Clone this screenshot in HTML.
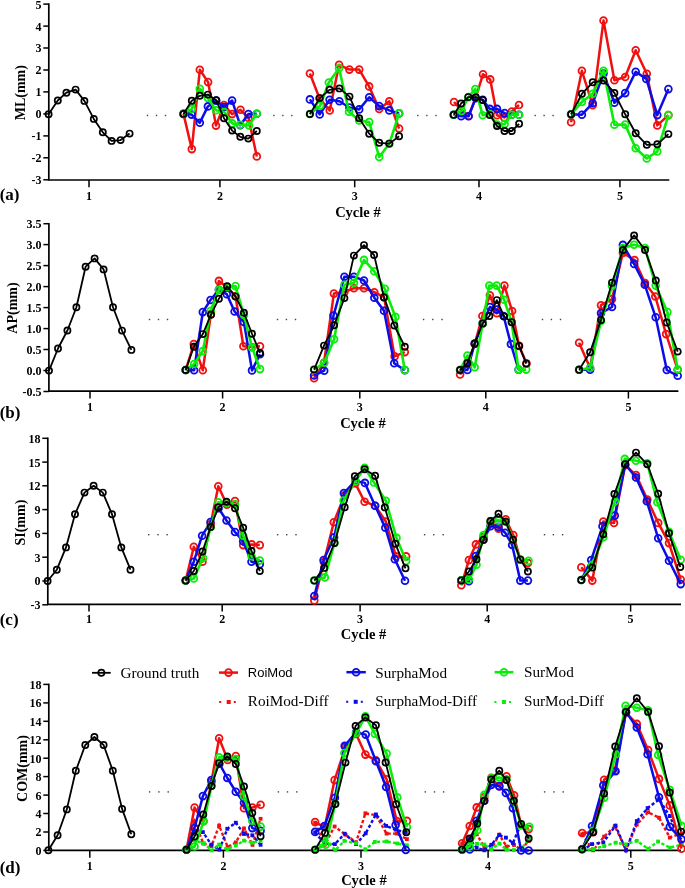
<!DOCTYPE html>
<html><head><meta charset="utf-8"><style>
html,body{margin:0;padding:0;background:#fff;width:685px;height:888px;overflow:hidden;}
svg{display:block;}
.tk{font-family:"Liberation Serif",serif;font-weight:bold;font-size:12px;}
.yl{font-family:"Liberation Serif",serif;font-weight:bold;font-size:14px;}
.xl{font-family:"Liberation Serif",serif;font-weight:bold;font-size:14.5px;}
.tag{font-family:"Liberation Serif",serif;font-weight:bold;font-size:17px;}
.lg{font-family:"Liberation Serif",serif;font-size:15.2px;}
.lgs{font-family:"Liberation Sans",sans-serif;font-size:13px;}
</style></head><body>
<svg width="685" height="888" viewBox="0 0 685 888">
<rect width="685" height="888" fill="#fff"/>
<line x1="48.8" y1="3.2999999999999945" x2="48.8" y2="180.0" stroke="#000" stroke-width="1.7"/>
<line x1="43.3" y1="4.1" x2="48.8" y2="4.1" stroke="#000" stroke-width="1.5"/>
<text x="41.5" y="8.5" class="tk" text-anchor="end">5</text>
<line x1="43.3" y1="26.1" x2="48.8" y2="26.1" stroke="#000" stroke-width="1.5"/>
<text x="41.5" y="30.5" class="tk" text-anchor="end">4</text>
<line x1="43.3" y1="48.0" x2="48.8" y2="48.0" stroke="#000" stroke-width="1.5"/>
<text x="41.5" y="52.4" class="tk" text-anchor="end">3</text>
<line x1="43.3" y1="70.0" x2="48.8" y2="70.0" stroke="#000" stroke-width="1.5"/>
<text x="41.5" y="74.4" class="tk" text-anchor="end">2</text>
<line x1="43.3" y1="91.9" x2="48.8" y2="91.9" stroke="#000" stroke-width="1.5"/>
<text x="41.5" y="96.3" class="tk" text-anchor="end">1</text>
<line x1="43.3" y1="113.9" x2="48.8" y2="113.9" stroke="#000" stroke-width="1.5"/>
<text x="41.5" y="118.3" class="tk" text-anchor="end">0</text>
<line x1="43.3" y1="135.9" x2="48.8" y2="135.9" stroke="#000" stroke-width="1.5"/>
<text x="41.5" y="140.3" class="tk" text-anchor="end">-1</text>
<line x1="43.3" y1="157.8" x2="48.8" y2="157.8" stroke="#000" stroke-width="1.5"/>
<text x="41.5" y="162.2" class="tk" text-anchor="end">-2</text>
<line x1="43.3" y1="179.8" x2="48.8" y2="179.8" stroke="#000" stroke-width="1.5"/>
<text x="41.5" y="184.2" class="tk" text-anchor="end">-3</text>
<text class="yl" transform="translate(24.5,92.7) rotate(-90)" text-anchor="middle">ML(mm)</text>
<line x1="47.9" y1="180.0" x2="669.3" y2="180.0" stroke="#000" stroke-width="1.7"/>
<line x1="89.0" y1="180.0" x2="89.0" y2="187.3" stroke="#000" stroke-width="1.5"/>
<text x="89.0" y="199.6" class="tk" text-anchor="middle">1</text>
<line x1="219.9" y1="180.0" x2="219.9" y2="187.3" stroke="#000" stroke-width="1.5"/>
<text x="219.9" y="199.6" class="tk" text-anchor="middle">2</text>
<line x1="354.7" y1="180.0" x2="354.7" y2="187.3" stroke="#000" stroke-width="1.5"/>
<text x="354.7" y="199.6" class="tk" text-anchor="middle">3</text>
<line x1="479.0" y1="180.0" x2="479.0" y2="187.3" stroke="#000" stroke-width="1.5"/>
<text x="479.0" y="199.6" class="tk" text-anchor="middle">4</text>
<line x1="619.9" y1="180.0" x2="619.9" y2="187.3" stroke="#000" stroke-width="1.5"/>
<text x="619.9" y="199.6" class="tk" text-anchor="middle">5</text>
<text x="357.9" y="216.5" class="xl" text-anchor="middle">Cycle #</text>
<text x="-0.3" y="200.3" class="tag">(a)</text>
<rect x="146.8" y="114.8" width="1.4" height="1.4" fill="#444"/>
<rect x="155.8" y="114.8" width="1.4" height="1.4" fill="#444"/>
<rect x="164.8" y="114.8" width="1.4" height="1.4" fill="#444"/>
<rect x="273.2" y="114.8" width="1.4" height="1.4" fill="#444"/>
<rect x="282.1" y="114.8" width="1.4" height="1.4" fill="#444"/>
<rect x="291.1" y="114.8" width="1.4" height="1.4" fill="#444"/>
<rect x="417.1" y="114.8" width="1.4" height="1.4" fill="#444"/>
<rect x="426.1" y="114.8" width="1.4" height="1.4" fill="#444"/>
<rect x="435.3" y="114.8" width="1.4" height="1.4" fill="#444"/>
<rect x="534.5" y="114.8" width="1.4" height="1.4" fill="#444"/>
<rect x="543.4" y="114.8" width="1.4" height="1.4" fill="#444"/>
<rect x="552.4" y="114.8" width="1.4" height="1.4" fill="#444"/>
<g fill="none" stroke="#f01010">
<polyline points="183.5,113.9 191.8,149.1 199.8,69.8 208.1,82.1 216.0,125.6 224.0,105.0 232.1,114.1 240.5,109.8 248.5,118.0 256.8,156.4" stroke-width="2.5" stroke-linejoin="round"/>
<polyline points="309.9,73.5 319.5,98.3 329.7,110.5 339.1,64.8 349.4,69.6 359.2,69.6 369.1,86.4 379.2,108.9 389.3,101.3 399.1,128.6" stroke-width="2.5" stroke-linejoin="round"/>
<polyline points="454.0,102.0 461.2,110.0 468.6,116.0 475.7,98.0 483.0,74.2 490.2,79.4 497.0,115.3 504.2,117.4 511.8,111.5 519.0,105.0" stroke-width="2.5" stroke-linejoin="round"/>
<polyline points="571.1,122.2 581.9,70.8 592.7,105.3 603.5,20.5 614.4,80.2 625.2,77.0 635.7,50.2 646.8,73.8 657.3,125.4 668.4,115.1" stroke-width="2.5" stroke-linejoin="round"/>
<circle cx="183.5" cy="113.9" r="3.4" stroke-width="1.8"/>
<circle cx="191.8" cy="149.1" r="3.4" stroke-width="1.8"/>
<circle cx="199.8" cy="69.8" r="3.4" stroke-width="1.8"/>
<circle cx="208.1" cy="82.1" r="3.4" stroke-width="1.8"/>
<circle cx="216.0" cy="125.6" r="3.4" stroke-width="1.8"/>
<circle cx="224.0" cy="105.0" r="3.4" stroke-width="1.8"/>
<circle cx="232.1" cy="114.1" r="3.4" stroke-width="1.8"/>
<circle cx="240.5" cy="109.8" r="3.4" stroke-width="1.8"/>
<circle cx="248.5" cy="118.0" r="3.4" stroke-width="1.8"/>
<circle cx="256.8" cy="156.4" r="3.4" stroke-width="1.8"/>
<circle cx="309.9" cy="73.5" r="3.4" stroke-width="1.8"/>
<circle cx="319.5" cy="98.3" r="3.4" stroke-width="1.8"/>
<circle cx="329.7" cy="110.5" r="3.4" stroke-width="1.8"/>
<circle cx="339.1" cy="64.8" r="3.4" stroke-width="1.8"/>
<circle cx="349.4" cy="69.6" r="3.4" stroke-width="1.8"/>
<circle cx="359.2" cy="69.6" r="3.4" stroke-width="1.8"/>
<circle cx="369.1" cy="86.4" r="3.4" stroke-width="1.8"/>
<circle cx="379.2" cy="108.9" r="3.4" stroke-width="1.8"/>
<circle cx="389.3" cy="101.3" r="3.4" stroke-width="1.8"/>
<circle cx="399.1" cy="128.6" r="3.4" stroke-width="1.8"/>
<circle cx="454.0" cy="102.0" r="3.4" stroke-width="1.8"/>
<circle cx="461.2" cy="110.0" r="3.4" stroke-width="1.8"/>
<circle cx="468.6" cy="116.0" r="3.4" stroke-width="1.8"/>
<circle cx="475.7" cy="98.0" r="3.4" stroke-width="1.8"/>
<circle cx="483.0" cy="74.2" r="3.4" stroke-width="1.8"/>
<circle cx="490.2" cy="79.4" r="3.4" stroke-width="1.8"/>
<circle cx="497.0" cy="115.3" r="3.4" stroke-width="1.8"/>
<circle cx="504.2" cy="117.4" r="3.4" stroke-width="1.8"/>
<circle cx="511.8" cy="111.5" r="3.4" stroke-width="1.8"/>
<circle cx="519.0" cy="105.0" r="3.4" stroke-width="1.8"/>
<circle cx="571.1" cy="122.2" r="3.4" stroke-width="1.8"/>
<circle cx="581.9" cy="70.8" r="3.4" stroke-width="1.8"/>
<circle cx="592.7" cy="105.3" r="3.4" stroke-width="1.8"/>
<circle cx="603.5" cy="20.5" r="3.4" stroke-width="1.8"/>
<circle cx="614.4" cy="80.2" r="3.4" stroke-width="1.8"/>
<circle cx="625.2" cy="77.0" r="3.4" stroke-width="1.8"/>
<circle cx="635.7" cy="50.2" r="3.4" stroke-width="1.8"/>
<circle cx="646.8" cy="73.8" r="3.4" stroke-width="1.8"/>
<circle cx="657.3" cy="125.4" r="3.4" stroke-width="1.8"/>
<circle cx="668.4" cy="115.1" r="3.4" stroke-width="1.8"/>
</g>
<g fill="none" stroke="#0c0ce6">
<polyline points="183.5,113.9 191.6,114.6 199.8,122.8 207.9,106.4 216.2,100.6 224.0,107.0 232.1,100.6 240.3,125.3 248.4,114.1 256.8,113.7" stroke-width="2.5" stroke-linejoin="round"/>
<polyline points="309.9,99.4 319.7,114.4 329.6,99.8 339.4,101.3 349.4,107.5 359.2,109.4 369.2,97.2 379.2,106.1 389.3,110.4 399.1,113.4" stroke-width="2.5" stroke-linejoin="round"/>
<polyline points="453.7,114.8 461.2,116.3 468.6,116.3 475.7,98.1 482.7,99.8 489.8,108.9 497.0,108.9 504.6,113.1 511.8,114.8 519.0,114.8" stroke-width="2.5" stroke-linejoin="round"/>
<polyline points="571.1,114.3 581.9,114.7 592.7,103.2 603.5,73.5 614.4,102.8 625.2,93.1 635.7,71.8 646.3,78.9 657.3,115.1 668.4,89.1" stroke-width="2.5" stroke-linejoin="round"/>
<circle cx="183.5" cy="113.9" r="3.4" stroke-width="1.8"/>
<circle cx="191.6" cy="114.6" r="3.4" stroke-width="1.8"/>
<circle cx="199.8" cy="122.8" r="3.4" stroke-width="1.8"/>
<circle cx="207.9" cy="106.4" r="3.4" stroke-width="1.8"/>
<circle cx="216.2" cy="100.6" r="3.4" stroke-width="1.8"/>
<circle cx="224.0" cy="107.0" r="3.4" stroke-width="1.8"/>
<circle cx="232.1" cy="100.6" r="3.4" stroke-width="1.8"/>
<circle cx="240.3" cy="125.3" r="3.4" stroke-width="1.8"/>
<circle cx="248.4" cy="114.1" r="3.4" stroke-width="1.8"/>
<circle cx="256.8" cy="113.7" r="3.4" stroke-width="1.8"/>
<circle cx="309.9" cy="99.4" r="3.4" stroke-width="1.8"/>
<circle cx="319.7" cy="114.4" r="3.4" stroke-width="1.8"/>
<circle cx="329.6" cy="99.8" r="3.4" stroke-width="1.8"/>
<circle cx="339.4" cy="101.3" r="3.4" stroke-width="1.8"/>
<circle cx="349.4" cy="107.5" r="3.4" stroke-width="1.8"/>
<circle cx="359.2" cy="109.4" r="3.4" stroke-width="1.8"/>
<circle cx="369.2" cy="97.2" r="3.4" stroke-width="1.8"/>
<circle cx="379.2" cy="106.1" r="3.4" stroke-width="1.8"/>
<circle cx="389.3" cy="110.4" r="3.4" stroke-width="1.8"/>
<circle cx="399.1" cy="113.4" r="3.4" stroke-width="1.8"/>
<circle cx="453.7" cy="114.8" r="3.4" stroke-width="1.8"/>
<circle cx="461.2" cy="116.3" r="3.4" stroke-width="1.8"/>
<circle cx="468.6" cy="116.3" r="3.4" stroke-width="1.8"/>
<circle cx="475.7" cy="98.1" r="3.4" stroke-width="1.8"/>
<circle cx="482.7" cy="99.8" r="3.4" stroke-width="1.8"/>
<circle cx="489.8" cy="108.9" r="3.4" stroke-width="1.8"/>
<circle cx="497.0" cy="108.9" r="3.4" stroke-width="1.8"/>
<circle cx="504.6" cy="113.1" r="3.4" stroke-width="1.8"/>
<circle cx="511.8" cy="114.8" r="3.4" stroke-width="1.8"/>
<circle cx="519.0" cy="114.8" r="3.4" stroke-width="1.8"/>
<circle cx="571.1" cy="114.3" r="3.4" stroke-width="1.8"/>
<circle cx="581.9" cy="114.7" r="3.4" stroke-width="1.8"/>
<circle cx="592.7" cy="103.2" r="3.4" stroke-width="1.8"/>
<circle cx="603.5" cy="73.5" r="3.4" stroke-width="1.8"/>
<circle cx="614.4" cy="102.8" r="3.4" stroke-width="1.8"/>
<circle cx="625.2" cy="93.1" r="3.4" stroke-width="1.8"/>
<circle cx="635.7" cy="71.8" r="3.4" stroke-width="1.8"/>
<circle cx="646.3" cy="78.9" r="3.4" stroke-width="1.8"/>
<circle cx="657.3" cy="115.1" r="3.4" stroke-width="1.8"/>
<circle cx="668.4" cy="89.1" r="3.4" stroke-width="1.8"/>
</g>
<g fill="none" stroke="#0aec0a">
<polyline points="183.5,113.9 191.8,109.0 199.8,88.8 207.9,98.0 216.0,110.3 224.2,112.0 232.3,123.4 240.3,124.7 249.0,125.5 256.8,113.7" stroke-width="2.6" stroke-linejoin="round"/>
<polyline points="309.9,114.0 320.1,105.8 328.8,82.5 339.0,68.2 349.0,111.8 359.1,120.5 369.2,122.1 379.2,157.0 389.3,143.8 399.1,113.4" stroke-width="2.6" stroke-linejoin="round"/>
<polyline points="453.7,114.8 461.5,110.9 468.3,97.1 475.3,89.0 482.7,115.2 489.8,114.0 497.0,124.5 504.6,124.1 511.8,114.8 519.0,114.8" stroke-width="2.6" stroke-linejoin="round"/>
<polyline points="571.1,114.3 581.9,101.9 592.7,93.8 603.5,70.8 614.4,124.7 625.2,124.6 635.7,148.2 646.8,158.5 657.3,151.4 668.4,115.1" stroke-width="2.6" stroke-linejoin="round"/>
<circle cx="183.5" cy="113.9" r="3.4" stroke-width="1.8"/>
<circle cx="191.8" cy="109.0" r="3.4" stroke-width="1.8"/>
<circle cx="199.8" cy="88.8" r="3.4" stroke-width="1.8"/>
<circle cx="207.9" cy="98.0" r="3.4" stroke-width="1.8"/>
<circle cx="216.0" cy="110.3" r="3.4" stroke-width="1.8"/>
<circle cx="224.2" cy="112.0" r="3.4" stroke-width="1.8"/>
<circle cx="232.3" cy="123.4" r="3.4" stroke-width="1.8"/>
<circle cx="240.3" cy="124.7" r="3.4" stroke-width="1.8"/>
<circle cx="249.0" cy="125.5" r="3.4" stroke-width="1.8"/>
<circle cx="256.8" cy="113.7" r="3.4" stroke-width="1.8"/>
<circle cx="309.9" cy="114.0" r="3.4" stroke-width="1.8"/>
<circle cx="320.1" cy="105.8" r="3.4" stroke-width="1.8"/>
<circle cx="328.8" cy="82.5" r="3.4" stroke-width="1.8"/>
<circle cx="339.0" cy="68.2" r="3.4" stroke-width="1.8"/>
<circle cx="349.0" cy="111.8" r="3.4" stroke-width="1.8"/>
<circle cx="359.1" cy="120.5" r="3.4" stroke-width="1.8"/>
<circle cx="369.2" cy="122.1" r="3.4" stroke-width="1.8"/>
<circle cx="379.2" cy="157.0" r="3.4" stroke-width="1.8"/>
<circle cx="389.3" cy="143.8" r="3.4" stroke-width="1.8"/>
<circle cx="399.1" cy="113.4" r="3.4" stroke-width="1.8"/>
<circle cx="453.7" cy="114.8" r="3.4" stroke-width="1.8"/>
<circle cx="461.5" cy="110.9" r="3.4" stroke-width="1.8"/>
<circle cx="468.3" cy="97.1" r="3.4" stroke-width="1.8"/>
<circle cx="475.3" cy="89.0" r="3.4" stroke-width="1.8"/>
<circle cx="482.7" cy="115.2" r="3.4" stroke-width="1.8"/>
<circle cx="489.8" cy="114.0" r="3.4" stroke-width="1.8"/>
<circle cx="497.0" cy="124.5" r="3.4" stroke-width="1.8"/>
<circle cx="504.6" cy="124.1" r="3.4" stroke-width="1.8"/>
<circle cx="511.8" cy="114.8" r="3.4" stroke-width="1.8"/>
<circle cx="519.0" cy="114.8" r="3.4" stroke-width="1.8"/>
<circle cx="571.1" cy="114.3" r="3.4" stroke-width="1.8"/>
<circle cx="581.9" cy="101.9" r="3.4" stroke-width="1.8"/>
<circle cx="592.7" cy="93.8" r="3.4" stroke-width="1.8"/>
<circle cx="603.5" cy="70.8" r="3.4" stroke-width="1.8"/>
<circle cx="614.4" cy="124.7" r="3.4" stroke-width="1.8"/>
<circle cx="625.2" cy="124.6" r="3.4" stroke-width="1.8"/>
<circle cx="635.7" cy="148.2" r="3.4" stroke-width="1.8"/>
<circle cx="646.8" cy="158.5" r="3.4" stroke-width="1.8"/>
<circle cx="657.3" cy="151.4" r="3.4" stroke-width="1.8"/>
<circle cx="668.4" cy="115.1" r="3.4" stroke-width="1.8"/>
</g>
<g fill="none" stroke="#000000">
<polyline points="48.6,114.2 57.8,100.5 66.4,92.7 75.6,89.6 84.4,100.9 93.8,118.9 102.8,132.3 111.6,140.9 120.6,140.1 129.6,133.6" stroke-width="1.8" stroke-linejoin="round"/>
<polyline points="183.5,113.9 191.8,100.8 199.8,95.8 207.9,94.6 216.2,100.3 224.0,118.2 232.1,130.6 240.3,136.8 248.3,138.6 256.8,131.0" stroke-width="1.8" stroke-linejoin="round"/>
<polyline points="309.9,114.0 319.7,98.1 329.6,89.8 339.4,88.4 349.5,96.6 359.2,118.3 369.2,133.7 379.2,142.8 389.3,143.6 399.1,136.2" stroke-width="1.8" stroke-linejoin="round"/>
<polyline points="453.7,114.8 461.1,103.5 468.3,97.1 475.7,97.2 482.7,100.0 489.8,115.1 497.0,126.0 504.5,131.0 511.8,131.0 519.1,123.8" stroke-width="1.8" stroke-linejoin="round"/>
<polyline points="571.1,114.3 581.9,93.8 592.7,82.3 603.5,80.5 614.4,92.9 625.2,114.3 635.7,133.3 646.8,144.8 657.3,144.3 668.4,134.1" stroke-width="1.8" stroke-linejoin="round"/>
<circle cx="48.6" cy="114.2" r="3.1" stroke-width="1.7"/>
<circle cx="57.8" cy="100.5" r="3.1" stroke-width="1.7"/>
<circle cx="66.4" cy="92.7" r="3.1" stroke-width="1.7"/>
<circle cx="75.6" cy="89.6" r="3.1" stroke-width="1.7"/>
<circle cx="84.4" cy="100.9" r="3.1" stroke-width="1.7"/>
<circle cx="93.8" cy="118.9" r="3.1" stroke-width="1.7"/>
<circle cx="102.8" cy="132.3" r="3.1" stroke-width="1.7"/>
<circle cx="111.6" cy="140.9" r="3.1" stroke-width="1.7"/>
<circle cx="120.6" cy="140.1" r="3.1" stroke-width="1.7"/>
<circle cx="129.6" cy="133.6" r="3.1" stroke-width="1.7"/>
<circle cx="183.5" cy="113.9" r="3.1" stroke-width="1.7"/>
<circle cx="191.8" cy="100.8" r="3.1" stroke-width="1.7"/>
<circle cx="199.8" cy="95.8" r="3.1" stroke-width="1.7"/>
<circle cx="207.9" cy="94.6" r="3.1" stroke-width="1.7"/>
<circle cx="216.2" cy="100.3" r="3.1" stroke-width="1.7"/>
<circle cx="224.0" cy="118.2" r="3.1" stroke-width="1.7"/>
<circle cx="232.1" cy="130.6" r="3.1" stroke-width="1.7"/>
<circle cx="240.3" cy="136.8" r="3.1" stroke-width="1.7"/>
<circle cx="248.3" cy="138.6" r="3.1" stroke-width="1.7"/>
<circle cx="256.8" cy="131.0" r="3.1" stroke-width="1.7"/>
<circle cx="309.9" cy="114.0" r="3.1" stroke-width="1.7"/>
<circle cx="319.7" cy="98.1" r="3.1" stroke-width="1.7"/>
<circle cx="329.6" cy="89.8" r="3.1" stroke-width="1.7"/>
<circle cx="339.4" cy="88.4" r="3.1" stroke-width="1.7"/>
<circle cx="349.5" cy="96.6" r="3.1" stroke-width="1.7"/>
<circle cx="359.2" cy="118.3" r="3.1" stroke-width="1.7"/>
<circle cx="369.2" cy="133.7" r="3.1" stroke-width="1.7"/>
<circle cx="379.2" cy="142.8" r="3.1" stroke-width="1.7"/>
<circle cx="389.3" cy="143.6" r="3.1" stroke-width="1.7"/>
<circle cx="399.1" cy="136.2" r="3.1" stroke-width="1.7"/>
<circle cx="453.7" cy="114.8" r="3.1" stroke-width="1.7"/>
<circle cx="461.1" cy="103.5" r="3.1" stroke-width="1.7"/>
<circle cx="468.3" cy="97.1" r="3.1" stroke-width="1.7"/>
<circle cx="475.7" cy="97.2" r="3.1" stroke-width="1.7"/>
<circle cx="482.7" cy="100.0" r="3.1" stroke-width="1.7"/>
<circle cx="489.8" cy="115.1" r="3.1" stroke-width="1.7"/>
<circle cx="497.0" cy="126.0" r="3.1" stroke-width="1.7"/>
<circle cx="504.5" cy="131.0" r="3.1" stroke-width="1.7"/>
<circle cx="511.8" cy="131.0" r="3.1" stroke-width="1.7"/>
<circle cx="519.1" cy="123.8" r="3.1" stroke-width="1.7"/>
<circle cx="571.1" cy="114.3" r="3.1" stroke-width="1.7"/>
<circle cx="581.9" cy="93.8" r="3.1" stroke-width="1.7"/>
<circle cx="592.7" cy="82.3" r="3.1" stroke-width="1.7"/>
<circle cx="603.5" cy="80.5" r="3.1" stroke-width="1.7"/>
<circle cx="614.4" cy="92.9" r="3.1" stroke-width="1.7"/>
<circle cx="625.2" cy="114.3" r="3.1" stroke-width="1.7"/>
<circle cx="635.7" cy="133.3" r="3.1" stroke-width="1.7"/>
<circle cx="646.8" cy="144.8" r="3.1" stroke-width="1.7"/>
<circle cx="657.3" cy="144.3" r="3.1" stroke-width="1.7"/>
<circle cx="668.4" cy="134.1" r="3.1" stroke-width="1.7"/>
</g>
<line x1="48.9" y1="222.87499999999997" x2="48.9" y2="391.2" stroke="#000" stroke-width="1.7"/>
<line x1="43.4" y1="223.7" x2="48.9" y2="223.7" stroke="#000" stroke-width="1.5"/>
<text x="41.6" y="228.1" class="tk" text-anchor="end">3.5</text>
<line x1="43.4" y1="244.6" x2="48.9" y2="244.6" stroke="#000" stroke-width="1.5"/>
<text x="41.6" y="249.0" class="tk" text-anchor="end">3.0</text>
<line x1="43.4" y1="265.6" x2="48.9" y2="265.6" stroke="#000" stroke-width="1.5"/>
<text x="41.6" y="270.0" class="tk" text-anchor="end">2.5</text>
<line x1="43.4" y1="286.6" x2="48.9" y2="286.6" stroke="#000" stroke-width="1.5"/>
<text x="41.6" y="291.0" class="tk" text-anchor="end">2.0</text>
<line x1="43.4" y1="307.6" x2="48.9" y2="307.6" stroke="#000" stroke-width="1.5"/>
<text x="41.6" y="312.0" class="tk" text-anchor="end">1.5</text>
<line x1="43.4" y1="328.6" x2="48.9" y2="328.6" stroke="#000" stroke-width="1.5"/>
<text x="41.6" y="333.0" class="tk" text-anchor="end">1.0</text>
<line x1="43.4" y1="349.5" x2="48.9" y2="349.5" stroke="#000" stroke-width="1.5"/>
<text x="41.6" y="353.9" class="tk" text-anchor="end">0.5</text>
<line x1="43.4" y1="370.5" x2="48.9" y2="370.5" stroke="#000" stroke-width="1.5"/>
<text x="41.6" y="374.9" class="tk" text-anchor="end">0.0</text>
<line x1="43.4" y1="391.5" x2="48.9" y2="391.5" stroke="#000" stroke-width="1.5"/>
<text x="41.6" y="395.9" class="tk" text-anchor="end">-0.5</text>
<text class="yl" transform="translate(16.9,308.0) rotate(-90)" text-anchor="middle">AP(mm)</text>
<line x1="48.0" y1="391.2" x2="678.4" y2="391.2" stroke="#000" stroke-width="1.7"/>
<line x1="90.0" y1="391.2" x2="90.0" y2="398.5" stroke="#000" stroke-width="1.5"/>
<text x="90.0" y="410.8" class="tk" text-anchor="middle">1</text>
<line x1="222.6" y1="391.2" x2="222.6" y2="398.5" stroke="#000" stroke-width="1.5"/>
<text x="222.6" y="410.8" class="tk" text-anchor="middle">2</text>
<line x1="359.8" y1="391.2" x2="359.8" y2="398.5" stroke="#000" stroke-width="1.5"/>
<text x="359.8" y="410.8" class="tk" text-anchor="middle">3</text>
<line x1="485.8" y1="391.2" x2="485.8" y2="398.5" stroke="#000" stroke-width="1.5"/>
<text x="485.8" y="410.8" class="tk" text-anchor="middle">4</text>
<line x1="628.4" y1="391.2" x2="628.4" y2="398.5" stroke="#000" stroke-width="1.5"/>
<text x="628.4" y="410.8" class="tk" text-anchor="middle">5</text>
<text x="362.9" y="428.4" class="xl" text-anchor="middle">Cycle #</text>
<text x="-0.3" y="417.5" class="tag">(b)</text>
<rect x="148.8" y="318.8" width="1.4" height="1.4" fill="#444"/>
<rect x="157.8" y="318.8" width="1.4" height="1.4" fill="#444"/>
<rect x="166.8" y="318.8" width="1.4" height="1.4" fill="#444"/>
<rect x="276.8" y="318.8" width="1.4" height="1.4" fill="#444"/>
<rect x="285.7" y="318.8" width="1.4" height="1.4" fill="#444"/>
<rect x="294.8" y="318.8" width="1.4" height="1.4" fill="#444"/>
<rect x="422.9" y="318.8" width="1.4" height="1.4" fill="#444"/>
<rect x="432.1" y="318.8" width="1.4" height="1.4" fill="#444"/>
<rect x="441.3" y="318.8" width="1.4" height="1.4" fill="#444"/>
<rect x="541.8" y="318.8" width="1.4" height="1.4" fill="#444"/>
<rect x="550.7" y="318.8" width="1.4" height="1.4" fill="#444"/>
<rect x="559.8" y="318.8" width="1.4" height="1.4" fill="#444"/>
<g fill="none" stroke="#f01010">
<polyline points="185.7,370.0 193.8,344.0 202.8,370.2 210.9,314.0 218.9,280.9 227.1,287.3 235.5,296.0 243.4,346.2 252.0,347.0 260.0,346.2" stroke-width="2.5" stroke-linejoin="round"/>
<polyline points="314.1,378.2 324.0,362.7 333.9,293.6 344.4,292.0 353.9,288.2 364.0,288.2 374.3,292.2 384.0,297.1 394.6,356.4 404.8,352.1" stroke-width="2.5" stroke-linejoin="round"/>
<polyline points="460.1,374.5 467.4,364.0 474.7,344.0 482.4,316.0 489.9,295.2 496.8,313.3 504.4,285.6 512.1,311.0 519.1,345.9 526.6,363.6" stroke-width="2.5" stroke-linejoin="round"/>
<polyline points="579.1,342.7 590.1,368.0 601.0,305.2 612.0,299.1 622.9,252.9 634.5,260.0 645.0,283.0 655.3,296.5 666.1,334.1 677.7,369.7" stroke-width="2.5" stroke-linejoin="round"/>
<circle cx="185.7" cy="370.0" r="3.4" stroke-width="1.8"/>
<circle cx="193.8" cy="344.0" r="3.4" stroke-width="1.8"/>
<circle cx="202.8" cy="370.2" r="3.4" stroke-width="1.8"/>
<circle cx="210.9" cy="314.0" r="3.4" stroke-width="1.8"/>
<circle cx="218.9" cy="280.9" r="3.4" stroke-width="1.8"/>
<circle cx="227.1" cy="287.3" r="3.4" stroke-width="1.8"/>
<circle cx="235.5" cy="296.0" r="3.4" stroke-width="1.8"/>
<circle cx="243.4" cy="346.2" r="3.4" stroke-width="1.8"/>
<circle cx="252.0" cy="347.0" r="3.4" stroke-width="1.8"/>
<circle cx="260.0" cy="346.2" r="3.4" stroke-width="1.8"/>
<circle cx="314.1" cy="378.2" r="3.4" stroke-width="1.8"/>
<circle cx="324.0" cy="362.7" r="3.4" stroke-width="1.8"/>
<circle cx="333.9" cy="293.6" r="3.4" stroke-width="1.8"/>
<circle cx="344.4" cy="292.0" r="3.4" stroke-width="1.8"/>
<circle cx="353.9" cy="288.2" r="3.4" stroke-width="1.8"/>
<circle cx="364.0" cy="288.2" r="3.4" stroke-width="1.8"/>
<circle cx="374.3" cy="292.2" r="3.4" stroke-width="1.8"/>
<circle cx="384.0" cy="297.1" r="3.4" stroke-width="1.8"/>
<circle cx="394.6" cy="356.4" r="3.4" stroke-width="1.8"/>
<circle cx="404.8" cy="352.1" r="3.4" stroke-width="1.8"/>
<circle cx="460.1" cy="374.5" r="3.4" stroke-width="1.8"/>
<circle cx="467.4" cy="364.0" r="3.4" stroke-width="1.8"/>
<circle cx="474.7" cy="344.0" r="3.4" stroke-width="1.8"/>
<circle cx="482.4" cy="316.0" r="3.4" stroke-width="1.8"/>
<circle cx="489.9" cy="295.2" r="3.4" stroke-width="1.8"/>
<circle cx="496.8" cy="313.3" r="3.4" stroke-width="1.8"/>
<circle cx="504.4" cy="285.6" r="3.4" stroke-width="1.8"/>
<circle cx="512.1" cy="311.0" r="3.4" stroke-width="1.8"/>
<circle cx="519.1" cy="345.9" r="3.4" stroke-width="1.8"/>
<circle cx="526.6" cy="363.6" r="3.4" stroke-width="1.8"/>
<circle cx="579.1" cy="342.7" r="3.4" stroke-width="1.8"/>
<circle cx="590.1" cy="368.0" r="3.4" stroke-width="1.8"/>
<circle cx="601.0" cy="305.2" r="3.4" stroke-width="1.8"/>
<circle cx="612.0" cy="299.1" r="3.4" stroke-width="1.8"/>
<circle cx="622.9" cy="252.9" r="3.4" stroke-width="1.8"/>
<circle cx="634.5" cy="260.0" r="3.4" stroke-width="1.8"/>
<circle cx="645.0" cy="283.0" r="3.4" stroke-width="1.8"/>
<circle cx="655.3" cy="296.5" r="3.4" stroke-width="1.8"/>
<circle cx="666.1" cy="334.1" r="3.4" stroke-width="1.8"/>
<circle cx="677.7" cy="369.7" r="3.4" stroke-width="1.8"/>
</g>
<g fill="none" stroke="#0c0ce6">
<polyline points="185.7,370.0 194.1,370.2 202.8,312.1 210.5,300.0 218.9,289.8 226.8,294.2 234.6,311.5 243.9,322.0 252.0,370.4 260.0,354.3" stroke-width="2.5" stroke-linejoin="round"/>
<polyline points="314.1,375.5 324.2,370.7 333.5,315.6 344.4,276.7 353.9,276.7 364.0,280.5 374.3,297.7 384.0,310.8 394.2,363.2 404.8,370.1" stroke-width="2.5" stroke-linejoin="round"/>
<polyline points="460.1,370.0 467.4,370.0 474.7,343.5 482.7,323.4 489.9,307.0 496.8,309.6 503.6,316.0 510.9,344.1 518.6,369.6" stroke-width="2.5" stroke-linejoin="round"/>
<polyline points="579.1,369.8 590.1,369.8 601.0,313.1 612.0,307.0 622.9,244.9 634.1,263.9 644.8,284.8 655.7,317.3 666.8,370.0 677.7,375.8" stroke-width="2.5" stroke-linejoin="round"/>
<circle cx="185.7" cy="370.0" r="3.4" stroke-width="1.8"/>
<circle cx="194.1" cy="370.2" r="3.4" stroke-width="1.8"/>
<circle cx="202.8" cy="312.1" r="3.4" stroke-width="1.8"/>
<circle cx="210.5" cy="300.0" r="3.4" stroke-width="1.8"/>
<circle cx="218.9" cy="289.8" r="3.4" stroke-width="1.8"/>
<circle cx="226.8" cy="294.2" r="3.4" stroke-width="1.8"/>
<circle cx="234.6" cy="311.5" r="3.4" stroke-width="1.8"/>
<circle cx="243.9" cy="322.0" r="3.4" stroke-width="1.8"/>
<circle cx="252.0" cy="370.4" r="3.4" stroke-width="1.8"/>
<circle cx="260.0" cy="354.3" r="3.4" stroke-width="1.8"/>
<circle cx="314.1" cy="375.5" r="3.4" stroke-width="1.8"/>
<circle cx="324.2" cy="370.7" r="3.4" stroke-width="1.8"/>
<circle cx="333.5" cy="315.6" r="3.4" stroke-width="1.8"/>
<circle cx="344.4" cy="276.7" r="3.4" stroke-width="1.8"/>
<circle cx="353.9" cy="276.7" r="3.4" stroke-width="1.8"/>
<circle cx="364.0" cy="280.5" r="3.4" stroke-width="1.8"/>
<circle cx="374.3" cy="297.7" r="3.4" stroke-width="1.8"/>
<circle cx="384.0" cy="310.8" r="3.4" stroke-width="1.8"/>
<circle cx="394.2" cy="363.2" r="3.4" stroke-width="1.8"/>
<circle cx="404.8" cy="370.1" r="3.4" stroke-width="1.8"/>
<circle cx="460.1" cy="370.0" r="3.4" stroke-width="1.8"/>
<circle cx="467.4" cy="370.0" r="3.4" stroke-width="1.8"/>
<circle cx="474.7" cy="343.5" r="3.4" stroke-width="1.8"/>
<circle cx="482.7" cy="323.4" r="3.4" stroke-width="1.8"/>
<circle cx="489.9" cy="307.0" r="3.4" stroke-width="1.8"/>
<circle cx="496.8" cy="309.6" r="3.4" stroke-width="1.8"/>
<circle cx="503.6" cy="316.0" r="3.4" stroke-width="1.8"/>
<circle cx="510.9" cy="344.1" r="3.4" stroke-width="1.8"/>
<circle cx="518.6" cy="369.6" r="3.4" stroke-width="1.8"/>
<circle cx="579.1" cy="369.8" r="3.4" stroke-width="1.8"/>
<circle cx="590.1" cy="369.8" r="3.4" stroke-width="1.8"/>
<circle cx="601.0" cy="313.1" r="3.4" stroke-width="1.8"/>
<circle cx="612.0" cy="307.0" r="3.4" stroke-width="1.8"/>
<circle cx="622.9" cy="244.9" r="3.4" stroke-width="1.8"/>
<circle cx="634.1" cy="263.9" r="3.4" stroke-width="1.8"/>
<circle cx="644.8" cy="284.8" r="3.4" stroke-width="1.8"/>
<circle cx="655.7" cy="317.3" r="3.4" stroke-width="1.8"/>
<circle cx="666.8" cy="370.0" r="3.4" stroke-width="1.8"/>
<circle cx="677.7" cy="375.8" r="3.4" stroke-width="1.8"/>
</g>
<g fill="none" stroke="#0aec0a">
<polyline points="185.7,370.0 194.1,364.0 202.8,351.1 210.8,310.8 218.9,289.8 227.1,287.0 235.5,286.1 243.9,315.0 252.0,347.4 260.0,369.1" stroke-width="2.6" stroke-linejoin="round"/>
<polyline points="314.1,369.6 324.2,362.7 334.1,339.2 344.4,284.8 353.9,282.9 364.0,259.9 374.3,271.3 384.8,288.8 395.4,316.9 404.8,370.1" stroke-width="2.6" stroke-linejoin="round"/>
<polyline points="460.1,370.0 467.4,355.5 474.7,367.3 482.7,323.4 489.3,285.6 496.7,285.6 504.1,299.8 511.5,321.7 518.6,369.6 526.2,369.6" stroke-width="2.6" stroke-linejoin="round"/>
<polyline points="579.1,369.8 590.1,368.0 601.0,321.0 612.0,286.0 622.9,248.0 634.1,244.7 645.0,248.0 655.7,285.6 667.4,312.1 677.7,369.5" stroke-width="2.6" stroke-linejoin="round"/>
<circle cx="185.7" cy="370.0" r="3.4" stroke-width="1.8"/>
<circle cx="194.1" cy="364.0" r="3.4" stroke-width="1.8"/>
<circle cx="202.8" cy="351.1" r="3.4" stroke-width="1.8"/>
<circle cx="210.8" cy="310.8" r="3.4" stroke-width="1.8"/>
<circle cx="218.9" cy="289.8" r="3.4" stroke-width="1.8"/>
<circle cx="227.1" cy="287.0" r="3.4" stroke-width="1.8"/>
<circle cx="235.5" cy="286.1" r="3.4" stroke-width="1.8"/>
<circle cx="243.9" cy="315.0" r="3.4" stroke-width="1.8"/>
<circle cx="252.0" cy="347.4" r="3.4" stroke-width="1.8"/>
<circle cx="260.0" cy="369.1" r="3.4" stroke-width="1.8"/>
<circle cx="314.1" cy="369.6" r="3.4" stroke-width="1.8"/>
<circle cx="324.2" cy="362.7" r="3.4" stroke-width="1.8"/>
<circle cx="334.1" cy="339.2" r="3.4" stroke-width="1.8"/>
<circle cx="344.4" cy="284.8" r="3.4" stroke-width="1.8"/>
<circle cx="353.9" cy="282.9" r="3.4" stroke-width="1.8"/>
<circle cx="364.0" cy="259.9" r="3.4" stroke-width="1.8"/>
<circle cx="374.3" cy="271.3" r="3.4" stroke-width="1.8"/>
<circle cx="384.8" cy="288.8" r="3.4" stroke-width="1.8"/>
<circle cx="395.4" cy="316.9" r="3.4" stroke-width="1.8"/>
<circle cx="404.8" cy="370.1" r="3.4" stroke-width="1.8"/>
<circle cx="460.1" cy="370.0" r="3.4" stroke-width="1.8"/>
<circle cx="467.4" cy="355.5" r="3.4" stroke-width="1.8"/>
<circle cx="474.7" cy="367.3" r="3.4" stroke-width="1.8"/>
<circle cx="482.7" cy="323.4" r="3.4" stroke-width="1.8"/>
<circle cx="489.3" cy="285.6" r="3.4" stroke-width="1.8"/>
<circle cx="496.7" cy="285.6" r="3.4" stroke-width="1.8"/>
<circle cx="504.1" cy="299.8" r="3.4" stroke-width="1.8"/>
<circle cx="511.5" cy="321.7" r="3.4" stroke-width="1.8"/>
<circle cx="518.6" cy="369.6" r="3.4" stroke-width="1.8"/>
<circle cx="526.2" cy="369.6" r="3.4" stroke-width="1.8"/>
<circle cx="579.1" cy="369.8" r="3.4" stroke-width="1.8"/>
<circle cx="590.1" cy="368.0" r="3.4" stroke-width="1.8"/>
<circle cx="601.0" cy="321.0" r="3.4" stroke-width="1.8"/>
<circle cx="612.0" cy="286.0" r="3.4" stroke-width="1.8"/>
<circle cx="622.9" cy="248.0" r="3.4" stroke-width="1.8"/>
<circle cx="634.1" cy="244.7" r="3.4" stroke-width="1.8"/>
<circle cx="645.0" cy="248.0" r="3.4" stroke-width="1.8"/>
<circle cx="655.7" cy="285.6" r="3.4" stroke-width="1.8"/>
<circle cx="667.4" cy="312.1" r="3.4" stroke-width="1.8"/>
<circle cx="677.7" cy="369.5" r="3.4" stroke-width="1.8"/>
</g>
<g fill="none" stroke="#000000">
<polyline points="49.0,370.6 58.0,348.5 67.4,330.5 76.4,307.2 85.6,266.7 94.6,258.4 103.6,269.4 113.0,307.2 122.0,330.6 131.4,349.9" stroke-width="1.8" stroke-linejoin="round"/>
<polyline points="185.7,370.0 193.8,346.7 202.8,334.1 211.0,314.7 218.9,298.7 227.1,286.3 235.5,296.6 243.9,312.8 252.0,333.8 260.0,353.0" stroke-width="1.8" stroke-linejoin="round"/>
<polyline points="314.1,369.6 324.0,345.6 334.1,325.3 344.4,298.1 353.9,255.6 364.0,245.1 374.1,255.0 384.0,297.4 394.3,325.5 404.8,346.7" stroke-width="1.8" stroke-linejoin="round"/>
<polyline points="460.1,370.0 467.4,363.0 474.7,343.5 482.7,323.4 489.4,316.0 496.8,300.1 504.1,316.4 511.7,322.3 519.1,345.9 526.2,363.4" stroke-width="1.8" stroke-linejoin="round"/>
<polyline points="579.1,369.8 590.1,352.3 601.0,320.1 612.0,282.8 622.9,250.1 634.1,235.4 645.0,250.0 655.8,280.4 666.7,322.5 677.7,351.6" stroke-width="1.8" stroke-linejoin="round"/>
<circle cx="49.0" cy="370.6" r="3.1" stroke-width="1.7"/>
<circle cx="58.0" cy="348.5" r="3.1" stroke-width="1.7"/>
<circle cx="67.4" cy="330.5" r="3.1" stroke-width="1.7"/>
<circle cx="76.4" cy="307.2" r="3.1" stroke-width="1.7"/>
<circle cx="85.6" cy="266.7" r="3.1" stroke-width="1.7"/>
<circle cx="94.6" cy="258.4" r="3.1" stroke-width="1.7"/>
<circle cx="103.6" cy="269.4" r="3.1" stroke-width="1.7"/>
<circle cx="113.0" cy="307.2" r="3.1" stroke-width="1.7"/>
<circle cx="122.0" cy="330.6" r="3.1" stroke-width="1.7"/>
<circle cx="131.4" cy="349.9" r="3.1" stroke-width="1.7"/>
<circle cx="185.7" cy="370.0" r="3.1" stroke-width="1.7"/>
<circle cx="193.8" cy="346.7" r="3.1" stroke-width="1.7"/>
<circle cx="202.8" cy="334.1" r="3.1" stroke-width="1.7"/>
<circle cx="211.0" cy="314.7" r="3.1" stroke-width="1.7"/>
<circle cx="218.9" cy="298.7" r="3.1" stroke-width="1.7"/>
<circle cx="227.1" cy="286.3" r="3.1" stroke-width="1.7"/>
<circle cx="235.5" cy="296.6" r="3.1" stroke-width="1.7"/>
<circle cx="243.9" cy="312.8" r="3.1" stroke-width="1.7"/>
<circle cx="252.0" cy="333.8" r="3.1" stroke-width="1.7"/>
<circle cx="260.0" cy="353.0" r="3.1" stroke-width="1.7"/>
<circle cx="314.1" cy="369.6" r="3.1" stroke-width="1.7"/>
<circle cx="324.0" cy="345.6" r="3.1" stroke-width="1.7"/>
<circle cx="334.1" cy="325.3" r="3.1" stroke-width="1.7"/>
<circle cx="344.4" cy="298.1" r="3.1" stroke-width="1.7"/>
<circle cx="353.9" cy="255.6" r="3.1" stroke-width="1.7"/>
<circle cx="364.0" cy="245.1" r="3.1" stroke-width="1.7"/>
<circle cx="374.1" cy="255.0" r="3.1" stroke-width="1.7"/>
<circle cx="384.0" cy="297.4" r="3.1" stroke-width="1.7"/>
<circle cx="394.3" cy="325.5" r="3.1" stroke-width="1.7"/>
<circle cx="404.8" cy="346.7" r="3.1" stroke-width="1.7"/>
<circle cx="460.1" cy="370.0" r="3.1" stroke-width="1.7"/>
<circle cx="467.4" cy="363.0" r="3.1" stroke-width="1.7"/>
<circle cx="474.7" cy="343.5" r="3.1" stroke-width="1.7"/>
<circle cx="482.7" cy="323.4" r="3.1" stroke-width="1.7"/>
<circle cx="489.4" cy="316.0" r="3.1" stroke-width="1.7"/>
<circle cx="496.8" cy="300.1" r="3.1" stroke-width="1.7"/>
<circle cx="504.1" cy="316.4" r="3.1" stroke-width="1.7"/>
<circle cx="511.7" cy="322.3" r="3.1" stroke-width="1.7"/>
<circle cx="519.1" cy="345.9" r="3.1" stroke-width="1.7"/>
<circle cx="526.2" cy="363.4" r="3.1" stroke-width="1.7"/>
<circle cx="579.1" cy="369.8" r="3.1" stroke-width="1.7"/>
<circle cx="590.1" cy="352.3" r="3.1" stroke-width="1.7"/>
<circle cx="601.0" cy="320.1" r="3.1" stroke-width="1.7"/>
<circle cx="612.0" cy="282.8" r="3.1" stroke-width="1.7"/>
<circle cx="622.9" cy="250.1" r="3.1" stroke-width="1.7"/>
<circle cx="634.1" cy="235.4" r="3.1" stroke-width="1.7"/>
<circle cx="645.0" cy="250.0" r="3.1" stroke-width="1.7"/>
<circle cx="655.8" cy="280.4" r="3.1" stroke-width="1.7"/>
<circle cx="666.7" cy="322.5" r="3.1" stroke-width="1.7"/>
<circle cx="677.7" cy="351.6" r="3.1" stroke-width="1.7"/>
</g>
<line x1="47.8" y1="437.46" x2="47.8" y2="604.3" stroke="#000" stroke-width="1.7"/>
<line x1="42.3" y1="438.3" x2="47.8" y2="438.3" stroke="#000" stroke-width="1.5"/>
<text x="40.5" y="442.7" class="tk" text-anchor="end">18</text>
<line x1="42.3" y1="462.1" x2="47.8" y2="462.1" stroke="#000" stroke-width="1.5"/>
<text x="40.5" y="466.5" class="tk" text-anchor="end">15</text>
<line x1="42.3" y1="485.8" x2="47.8" y2="485.8" stroke="#000" stroke-width="1.5"/>
<text x="40.5" y="490.2" class="tk" text-anchor="end">12</text>
<line x1="42.3" y1="509.6" x2="47.8" y2="509.6" stroke="#000" stroke-width="1.5"/>
<text x="40.5" y="514.0" class="tk" text-anchor="end">9</text>
<line x1="42.3" y1="533.4" x2="47.8" y2="533.4" stroke="#000" stroke-width="1.5"/>
<text x="40.5" y="537.8" class="tk" text-anchor="end">6</text>
<line x1="42.3" y1="557.2" x2="47.8" y2="557.2" stroke="#000" stroke-width="1.5"/>
<text x="40.5" y="561.6" class="tk" text-anchor="end">3</text>
<line x1="42.3" y1="581.0" x2="47.8" y2="581.0" stroke="#000" stroke-width="1.5"/>
<text x="40.5" y="585.4" class="tk" text-anchor="end">0</text>
<line x1="42.3" y1="604.8" x2="47.8" y2="604.8" stroke="#000" stroke-width="1.5"/>
<text x="40.5" y="609.2" class="tk" text-anchor="end">-3</text>
<text class="yl" transform="translate(24.8,522.6) rotate(-90)" text-anchor="middle">SI(mm)</text>
<line x1="47.0" y1="604.3" x2="681.0" y2="604.3" stroke="#000" stroke-width="1.7"/>
<line x1="89.0" y1="604.3" x2="89.0" y2="611.5999999999999" stroke="#000" stroke-width="1.5"/>
<text x="89.0" y="623.2" class="tk" text-anchor="middle">1</text>
<line x1="222.2" y1="604.3" x2="222.2" y2="611.5999999999999" stroke="#000" stroke-width="1.5"/>
<text x="222.2" y="623.2" class="tk" text-anchor="middle">2</text>
<line x1="360.1" y1="604.3" x2="360.1" y2="611.5999999999999" stroke="#000" stroke-width="1.5"/>
<text x="360.1" y="623.2" class="tk" text-anchor="middle">3</text>
<line x1="487.2" y1="604.3" x2="487.2" y2="611.5999999999999" stroke="#000" stroke-width="1.5"/>
<text x="487.2" y="623.2" class="tk" text-anchor="middle">4</text>
<line x1="630.6" y1="604.3" x2="630.6" y2="611.5999999999999" stroke="#000" stroke-width="1.5"/>
<text x="630.6" y="623.2" class="tk" text-anchor="middle">5</text>
<text x="363.5" y="639.3" class="xl" text-anchor="middle">Cycle #</text>
<text x="-0.3" y="624.6" class="tag">(c)</text>
<rect x="148.0" y="534.0" width="1.4" height="1.4" fill="#444"/>
<rect x="157.3" y="534.0" width="1.4" height="1.4" fill="#444"/>
<rect x="166.4" y="534.0" width="1.4" height="1.4" fill="#444"/>
<rect x="276.9" y="534.0" width="1.4" height="1.4" fill="#444"/>
<rect x="286.0" y="534.0" width="1.4" height="1.4" fill="#444"/>
<rect x="295.3" y="534.0" width="1.4" height="1.4" fill="#444"/>
<rect x="423.9" y="534.0" width="1.4" height="1.4" fill="#444"/>
<rect x="433.0" y="534.0" width="1.4" height="1.4" fill="#444"/>
<rect x="442.5" y="534.0" width="1.4" height="1.4" fill="#444"/>
<rect x="543.8" y="534.0" width="1.4" height="1.4" fill="#444"/>
<rect x="552.7" y="534.0" width="1.4" height="1.4" fill="#444"/>
<rect x="561.9" y="534.0" width="1.4" height="1.4" fill="#444"/>
<g fill="none" stroke="#f01010">
<polyline points="185.7,580.5 193.8,546.8 202.5,561.7 210.7,524.0 218.3,486.2 226.9,504.8 235.0,501.1 243.2,545.1 251.7,544.4 259.8,545.1" stroke-width="2.5" stroke-linejoin="round"/>
<polyline points="314.3,600.4 323.9,562.0 333.8,522.3 344.7,495.0 355.3,483.4 364.6,501.7 375.1,505.7 385.8,521.5 396.0,556.4 406.1,556.4" stroke-width="2.5" stroke-linejoin="round"/>
<polyline points="461.3,585.3 468.9,560.1 475.9,544.4 483.5,537.0 490.5,522.0 498.5,528.6 505.7,519.3 513.3,535.0 520.3,559.6 527.9,563.0" stroke-width="2.5" stroke-linejoin="round"/>
<polyline points="581.3,567.3 592.3,580.6 603.3,521.5 614.0,522.9 625.2,465.2 636.0,475.1 647.3,499.5 658.2,522.9 669.0,543.1 680.7,579.6" stroke-width="2.5" stroke-linejoin="round"/>
<circle cx="185.7" cy="580.5" r="3.4" stroke-width="1.8"/>
<circle cx="193.8" cy="546.8" r="3.4" stroke-width="1.8"/>
<circle cx="202.5" cy="561.7" r="3.4" stroke-width="1.8"/>
<circle cx="210.7" cy="524.0" r="3.4" stroke-width="1.8"/>
<circle cx="218.3" cy="486.2" r="3.4" stroke-width="1.8"/>
<circle cx="226.9" cy="504.8" r="3.4" stroke-width="1.8"/>
<circle cx="235.0" cy="501.1" r="3.4" stroke-width="1.8"/>
<circle cx="243.2" cy="545.1" r="3.4" stroke-width="1.8"/>
<circle cx="251.7" cy="544.4" r="3.4" stroke-width="1.8"/>
<circle cx="259.8" cy="545.1" r="3.4" stroke-width="1.8"/>
<circle cx="314.3" cy="600.4" r="3.4" stroke-width="1.8"/>
<circle cx="323.9" cy="562.0" r="3.4" stroke-width="1.8"/>
<circle cx="333.8" cy="522.3" r="3.4" stroke-width="1.8"/>
<circle cx="344.7" cy="495.0" r="3.4" stroke-width="1.8"/>
<circle cx="355.3" cy="483.4" r="3.4" stroke-width="1.8"/>
<circle cx="364.6" cy="501.7" r="3.4" stroke-width="1.8"/>
<circle cx="375.1" cy="505.7" r="3.4" stroke-width="1.8"/>
<circle cx="385.8" cy="521.5" r="3.4" stroke-width="1.8"/>
<circle cx="396.0" cy="556.4" r="3.4" stroke-width="1.8"/>
<circle cx="406.1" cy="556.4" r="3.4" stroke-width="1.8"/>
<circle cx="461.3" cy="585.3" r="3.4" stroke-width="1.8"/>
<circle cx="468.9" cy="560.1" r="3.4" stroke-width="1.8"/>
<circle cx="475.9" cy="544.4" r="3.4" stroke-width="1.8"/>
<circle cx="483.5" cy="537.0" r="3.4" stroke-width="1.8"/>
<circle cx="490.5" cy="522.0" r="3.4" stroke-width="1.8"/>
<circle cx="498.5" cy="528.6" r="3.4" stroke-width="1.8"/>
<circle cx="505.7" cy="519.3" r="3.4" stroke-width="1.8"/>
<circle cx="513.3" cy="535.0" r="3.4" stroke-width="1.8"/>
<circle cx="520.3" cy="559.6" r="3.4" stroke-width="1.8"/>
<circle cx="527.9" cy="563.0" r="3.4" stroke-width="1.8"/>
<circle cx="581.3" cy="567.3" r="3.4" stroke-width="1.8"/>
<circle cx="592.3" cy="580.6" r="3.4" stroke-width="1.8"/>
<circle cx="603.3" cy="521.5" r="3.4" stroke-width="1.8"/>
<circle cx="614.0" cy="522.9" r="3.4" stroke-width="1.8"/>
<circle cx="625.2" cy="465.2" r="3.4" stroke-width="1.8"/>
<circle cx="636.0" cy="475.1" r="3.4" stroke-width="1.8"/>
<circle cx="647.3" cy="499.5" r="3.4" stroke-width="1.8"/>
<circle cx="658.2" cy="522.9" r="3.4" stroke-width="1.8"/>
<circle cx="669.0" cy="543.1" r="3.4" stroke-width="1.8"/>
<circle cx="680.7" cy="579.6" r="3.4" stroke-width="1.8"/>
</g>
<g fill="none" stroke="#0c0ce6">
<polyline points="185.7,580.5 193.8,561.7 202.1,535.7 210.5,522.1 218.6,508.2 226.5,520.5 235.0,532.0 243.2,541.3 251.5,561.8 259.8,564.3" stroke-width="2.5" stroke-linejoin="round"/>
<polyline points="314.3,596.0 323.6,560.1 334.1,537.2 343.9,493.0 355.3,480.9 364.9,482.9 375.1,505.8 385.3,527.7 394.8,559.3 405.0,580.7" stroke-width="2.5" stroke-linejoin="round"/>
<polyline points="461.3,580.4 468.9,581.2 475.9,556.1 483.5,539.7 490.5,526.3 498.5,526.9 505.1,532.7 512.1,545.0 520.3,580.6 527.9,580.6" stroke-width="2.5" stroke-linejoin="round"/>
<polyline points="581.3,580.0 591.2,560.0 602.5,526.3 614.8,515.6 625.2,464.3 636.0,477.5 646.8,501.3 658.2,538.2 669.0,560.7 680.7,584.1" stroke-width="2.5" stroke-linejoin="round"/>
<circle cx="185.7" cy="580.5" r="3.4" stroke-width="1.8"/>
<circle cx="193.8" cy="561.7" r="3.4" stroke-width="1.8"/>
<circle cx="202.1" cy="535.7" r="3.4" stroke-width="1.8"/>
<circle cx="210.5" cy="522.1" r="3.4" stroke-width="1.8"/>
<circle cx="218.6" cy="508.2" r="3.4" stroke-width="1.8"/>
<circle cx="226.5" cy="520.5" r="3.4" stroke-width="1.8"/>
<circle cx="235.0" cy="532.0" r="3.4" stroke-width="1.8"/>
<circle cx="243.2" cy="541.3" r="3.4" stroke-width="1.8"/>
<circle cx="251.5" cy="561.8" r="3.4" stroke-width="1.8"/>
<circle cx="259.8" cy="564.3" r="3.4" stroke-width="1.8"/>
<circle cx="314.3" cy="596.0" r="3.4" stroke-width="1.8"/>
<circle cx="323.6" cy="560.1" r="3.4" stroke-width="1.8"/>
<circle cx="334.1" cy="537.2" r="3.4" stroke-width="1.8"/>
<circle cx="343.9" cy="493.0" r="3.4" stroke-width="1.8"/>
<circle cx="355.3" cy="480.9" r="3.4" stroke-width="1.8"/>
<circle cx="364.9" cy="482.9" r="3.4" stroke-width="1.8"/>
<circle cx="375.1" cy="505.8" r="3.4" stroke-width="1.8"/>
<circle cx="385.3" cy="527.7" r="3.4" stroke-width="1.8"/>
<circle cx="394.8" cy="559.3" r="3.4" stroke-width="1.8"/>
<circle cx="405.0" cy="580.7" r="3.4" stroke-width="1.8"/>
<circle cx="461.3" cy="580.4" r="3.4" stroke-width="1.8"/>
<circle cx="468.9" cy="581.2" r="3.4" stroke-width="1.8"/>
<circle cx="475.9" cy="556.1" r="3.4" stroke-width="1.8"/>
<circle cx="483.5" cy="539.7" r="3.4" stroke-width="1.8"/>
<circle cx="490.5" cy="526.3" r="3.4" stroke-width="1.8"/>
<circle cx="498.5" cy="526.9" r="3.4" stroke-width="1.8"/>
<circle cx="505.1" cy="532.7" r="3.4" stroke-width="1.8"/>
<circle cx="512.1" cy="545.0" r="3.4" stroke-width="1.8"/>
<circle cx="520.3" cy="580.6" r="3.4" stroke-width="1.8"/>
<circle cx="527.9" cy="580.6" r="3.4" stroke-width="1.8"/>
<circle cx="581.3" cy="580.0" r="3.4" stroke-width="1.8"/>
<circle cx="591.2" cy="560.0" r="3.4" stroke-width="1.8"/>
<circle cx="602.5" cy="526.3" r="3.4" stroke-width="1.8"/>
<circle cx="614.8" cy="515.6" r="3.4" stroke-width="1.8"/>
<circle cx="625.2" cy="464.3" r="3.4" stroke-width="1.8"/>
<circle cx="636.0" cy="477.5" r="3.4" stroke-width="1.8"/>
<circle cx="646.8" cy="501.3" r="3.4" stroke-width="1.8"/>
<circle cx="658.2" cy="538.2" r="3.4" stroke-width="1.8"/>
<circle cx="669.0" cy="560.7" r="3.4" stroke-width="1.8"/>
<circle cx="680.7" cy="584.1" r="3.4" stroke-width="1.8"/>
</g>
<g fill="none" stroke="#0aec0a">
<polyline points="185.7,580.5 193.8,578.4 203.0,558.0 210.7,527.0 218.3,502.3 226.5,502.9 235.0,504.2 243.2,535.8 251.5,556.2 259.8,560.5" stroke-width="2.6" stroke-linejoin="round"/>
<polyline points="314.3,580.5 324.8,577.4 334.5,543.0 343.6,500.6 355.3,481.4 364.6,467.7 374.0,482.4 385.8,500.7 396.5,537.9 406.1,560.9" stroke-width="2.6" stroke-linejoin="round"/>
<polyline points="461.3,580.4 468.9,579.4 476.5,564.8 483.5,535.0 490.5,521.0 498.5,520.4 505.7,521.6 513.0,539.7 520.3,559.6 528.5,560.7" stroke-width="2.6" stroke-linejoin="round"/>
<polyline points="581.3,580.0 592.3,564.8 603.3,537.3 615.0,501.3 624.8,458.9 636.0,460.7 647.3,463.4 657.3,502.2 669.0,531.9 680.7,559.8" stroke-width="2.6" stroke-linejoin="round"/>
<circle cx="185.7" cy="580.5" r="3.4" stroke-width="1.8"/>
<circle cx="193.8" cy="578.4" r="3.4" stroke-width="1.8"/>
<circle cx="203.0" cy="558.0" r="3.4" stroke-width="1.8"/>
<circle cx="210.7" cy="527.0" r="3.4" stroke-width="1.8"/>
<circle cx="218.3" cy="502.3" r="3.4" stroke-width="1.8"/>
<circle cx="226.5" cy="502.9" r="3.4" stroke-width="1.8"/>
<circle cx="235.0" cy="504.2" r="3.4" stroke-width="1.8"/>
<circle cx="243.2" cy="535.8" r="3.4" stroke-width="1.8"/>
<circle cx="251.5" cy="556.2" r="3.4" stroke-width="1.8"/>
<circle cx="259.8" cy="560.5" r="3.4" stroke-width="1.8"/>
<circle cx="314.3" cy="580.5" r="3.4" stroke-width="1.8"/>
<circle cx="324.8" cy="577.4" r="3.4" stroke-width="1.8"/>
<circle cx="334.5" cy="543.0" r="3.4" stroke-width="1.8"/>
<circle cx="343.6" cy="500.6" r="3.4" stroke-width="1.8"/>
<circle cx="355.3" cy="481.4" r="3.4" stroke-width="1.8"/>
<circle cx="364.6" cy="467.7" r="3.4" stroke-width="1.8"/>
<circle cx="374.0" cy="482.4" r="3.4" stroke-width="1.8"/>
<circle cx="385.8" cy="500.7" r="3.4" stroke-width="1.8"/>
<circle cx="396.5" cy="537.9" r="3.4" stroke-width="1.8"/>
<circle cx="406.1" cy="560.9" r="3.4" stroke-width="1.8"/>
<circle cx="461.3" cy="580.4" r="3.4" stroke-width="1.8"/>
<circle cx="468.9" cy="579.4" r="3.4" stroke-width="1.8"/>
<circle cx="476.5" cy="564.8" r="3.4" stroke-width="1.8"/>
<circle cx="483.5" cy="535.0" r="3.4" stroke-width="1.8"/>
<circle cx="490.5" cy="521.0" r="3.4" stroke-width="1.8"/>
<circle cx="498.5" cy="520.4" r="3.4" stroke-width="1.8"/>
<circle cx="505.7" cy="521.6" r="3.4" stroke-width="1.8"/>
<circle cx="513.0" cy="539.7" r="3.4" stroke-width="1.8"/>
<circle cx="520.3" cy="559.6" r="3.4" stroke-width="1.8"/>
<circle cx="528.5" cy="560.7" r="3.4" stroke-width="1.8"/>
<circle cx="581.3" cy="580.0" r="3.4" stroke-width="1.8"/>
<circle cx="592.3" cy="564.8" r="3.4" stroke-width="1.8"/>
<circle cx="603.3" cy="537.3" r="3.4" stroke-width="1.8"/>
<circle cx="615.0" cy="501.3" r="3.4" stroke-width="1.8"/>
<circle cx="624.8" cy="458.9" r="3.4" stroke-width="1.8"/>
<circle cx="636.0" cy="460.7" r="3.4" stroke-width="1.8"/>
<circle cx="647.3" cy="463.4" r="3.4" stroke-width="1.8"/>
<circle cx="657.3" cy="502.2" r="3.4" stroke-width="1.8"/>
<circle cx="669.0" cy="531.9" r="3.4" stroke-width="1.8"/>
<circle cx="680.7" cy="559.8" r="3.4" stroke-width="1.8"/>
</g>
<g fill="none" stroke="#000000">
<polyline points="47.6,581.0 56.8,569.7 66.0,547.4 75.0,514.2 84.5,492.6 93.6,485.8 102.8,492.6 112.0,514.2 121.3,547.4 130.5,569.7" stroke-width="1.8" stroke-linejoin="round"/>
<polyline points="185.7,580.5 193.8,571.0 202.5,551.5 210.7,527.0 218.3,507.3 226.5,501.8 235.0,508.3 243.2,527.7 251.5,550.9 259.8,571.1" stroke-width="1.8" stroke-linejoin="round"/>
<polyline points="314.3,580.5 324.2,567.9 334.5,543.0 344.7,507.3 354.8,476.3 364.6,469.2 375.1,475.8 384.8,507.4 395.4,543.8 405.5,568.3" stroke-width="1.8" stroke-linejoin="round"/>
<polyline points="461.3,580.4 468.9,571.5 476.5,559.3 483.5,539.7 490.5,521.0 498.5,513.8 505.7,521.6 513.0,539.7 520.3,559.6 527.9,571.5" stroke-width="1.8" stroke-linejoin="round"/>
<polyline points="581.3,580.0 592.3,567.6 603.3,534.3 614.4,494.0 625.2,464.3 636.0,452.6 647.3,464.3 658.2,493.7 669.0,533.3 680.3,567.0" stroke-width="1.8" stroke-linejoin="round"/>
<circle cx="47.6" cy="581.0" r="3.1" stroke-width="1.7"/>
<circle cx="56.8" cy="569.7" r="3.1" stroke-width="1.7"/>
<circle cx="66.0" cy="547.4" r="3.1" stroke-width="1.7"/>
<circle cx="75.0" cy="514.2" r="3.1" stroke-width="1.7"/>
<circle cx="84.5" cy="492.6" r="3.1" stroke-width="1.7"/>
<circle cx="93.6" cy="485.8" r="3.1" stroke-width="1.7"/>
<circle cx="102.8" cy="492.6" r="3.1" stroke-width="1.7"/>
<circle cx="112.0" cy="514.2" r="3.1" stroke-width="1.7"/>
<circle cx="121.3" cy="547.4" r="3.1" stroke-width="1.7"/>
<circle cx="130.5" cy="569.7" r="3.1" stroke-width="1.7"/>
<circle cx="185.7" cy="580.5" r="3.1" stroke-width="1.7"/>
<circle cx="193.8" cy="571.0" r="3.1" stroke-width="1.7"/>
<circle cx="202.5" cy="551.5" r="3.1" stroke-width="1.7"/>
<circle cx="210.7" cy="527.0" r="3.1" stroke-width="1.7"/>
<circle cx="218.3" cy="507.3" r="3.1" stroke-width="1.7"/>
<circle cx="226.5" cy="501.8" r="3.1" stroke-width="1.7"/>
<circle cx="235.0" cy="508.3" r="3.1" stroke-width="1.7"/>
<circle cx="243.2" cy="527.7" r="3.1" stroke-width="1.7"/>
<circle cx="251.5" cy="550.9" r="3.1" stroke-width="1.7"/>
<circle cx="259.8" cy="571.1" r="3.1" stroke-width="1.7"/>
<circle cx="314.3" cy="580.5" r="3.1" stroke-width="1.7"/>
<circle cx="324.2" cy="567.9" r="3.1" stroke-width="1.7"/>
<circle cx="334.5" cy="543.0" r="3.1" stroke-width="1.7"/>
<circle cx="344.7" cy="507.3" r="3.1" stroke-width="1.7"/>
<circle cx="354.8" cy="476.3" r="3.1" stroke-width="1.7"/>
<circle cx="364.6" cy="469.2" r="3.1" stroke-width="1.7"/>
<circle cx="375.1" cy="475.8" r="3.1" stroke-width="1.7"/>
<circle cx="384.8" cy="507.4" r="3.1" stroke-width="1.7"/>
<circle cx="395.4" cy="543.8" r="3.1" stroke-width="1.7"/>
<circle cx="405.5" cy="568.3" r="3.1" stroke-width="1.7"/>
<circle cx="461.3" cy="580.4" r="3.1" stroke-width="1.7"/>
<circle cx="468.9" cy="571.5" r="3.1" stroke-width="1.7"/>
<circle cx="476.5" cy="559.3" r="3.1" stroke-width="1.7"/>
<circle cx="483.5" cy="539.7" r="3.1" stroke-width="1.7"/>
<circle cx="490.5" cy="521.0" r="3.1" stroke-width="1.7"/>
<circle cx="498.5" cy="513.8" r="3.1" stroke-width="1.7"/>
<circle cx="505.7" cy="521.6" r="3.1" stroke-width="1.7"/>
<circle cx="513.0" cy="539.7" r="3.1" stroke-width="1.7"/>
<circle cx="520.3" cy="559.6" r="3.1" stroke-width="1.7"/>
<circle cx="527.9" cy="571.5" r="3.1" stroke-width="1.7"/>
<circle cx="581.3" cy="580.0" r="3.1" stroke-width="1.7"/>
<circle cx="592.3" cy="567.6" r="3.1" stroke-width="1.7"/>
<circle cx="603.3" cy="534.3" r="3.1" stroke-width="1.7"/>
<circle cx="614.4" cy="494.0" r="3.1" stroke-width="1.7"/>
<circle cx="625.2" cy="464.3" r="3.1" stroke-width="1.7"/>
<circle cx="636.0" cy="452.6" r="3.1" stroke-width="1.7"/>
<circle cx="647.3" cy="464.3" r="3.1" stroke-width="1.7"/>
<circle cx="658.2" cy="493.7" r="3.1" stroke-width="1.7"/>
<circle cx="669.0" cy="533.3" r="3.1" stroke-width="1.7"/>
<circle cx="680.3" cy="567.0" r="3.1" stroke-width="1.7"/>
</g>
<line x1="48.8" y1="683.64" x2="48.8" y2="850.4" stroke="#000" stroke-width="1.7"/>
<line x1="43.3" y1="684.4" x2="48.8" y2="684.4" stroke="#000" stroke-width="1.5"/>
<text x="41.5" y="688.8" class="tk" text-anchor="end">18</text>
<line x1="43.3" y1="702.9" x2="48.8" y2="702.9" stroke="#000" stroke-width="1.5"/>
<text x="41.5" y="707.3" class="tk" text-anchor="end">16</text>
<line x1="43.3" y1="721.3" x2="48.8" y2="721.3" stroke="#000" stroke-width="1.5"/>
<text x="41.5" y="725.7" class="tk" text-anchor="end">14</text>
<line x1="43.3" y1="739.8" x2="48.8" y2="739.8" stroke="#000" stroke-width="1.5"/>
<text x="41.5" y="744.2" class="tk" text-anchor="end">12</text>
<line x1="43.3" y1="758.2" x2="48.8" y2="758.2" stroke="#000" stroke-width="1.5"/>
<text x="41.5" y="762.6" class="tk" text-anchor="end">10</text>
<line x1="43.3" y1="776.6" x2="48.8" y2="776.6" stroke="#000" stroke-width="1.5"/>
<text x="41.5" y="781.0" class="tk" text-anchor="end">8</text>
<line x1="43.3" y1="795.1" x2="48.8" y2="795.1" stroke="#000" stroke-width="1.5"/>
<text x="41.5" y="799.5" class="tk" text-anchor="end">6</text>
<line x1="43.3" y1="813.5" x2="48.8" y2="813.5" stroke="#000" stroke-width="1.5"/>
<text x="41.5" y="817.9" class="tk" text-anchor="end">4</text>
<line x1="43.3" y1="832.0" x2="48.8" y2="832.0" stroke="#000" stroke-width="1.5"/>
<text x="41.5" y="836.4" class="tk" text-anchor="end">2</text>
<line x1="43.3" y1="850.4" x2="48.8" y2="850.4" stroke="#000" stroke-width="1.5"/>
<text x="41.5" y="854.8" class="tk" text-anchor="end">0</text>
<text class="yl" transform="translate(26.5,768.5) rotate(-90)" text-anchor="middle">COM(mm)</text>
<line x1="48.0" y1="850.4" x2="681.0" y2="850.4" stroke="#000" stroke-width="1.7"/>
<line x1="89.8" y1="850.4" x2="89.8" y2="857.6999999999999" stroke="#000" stroke-width="1.5"/>
<text x="89.8" y="869.6" class="tk" text-anchor="middle">1</text>
<line x1="223.4" y1="850.4" x2="223.4" y2="857.6999999999999" stroke="#000" stroke-width="1.5"/>
<text x="223.4" y="869.6" class="tk" text-anchor="middle">2</text>
<line x1="361.0" y1="850.4" x2="361.0" y2="857.6999999999999" stroke="#000" stroke-width="1.5"/>
<text x="361.0" y="869.6" class="tk" text-anchor="middle">3</text>
<line x1="488.1" y1="850.4" x2="488.1" y2="857.6999999999999" stroke="#000" stroke-width="1.5"/>
<text x="488.1" y="869.6" class="tk" text-anchor="middle">4</text>
<line x1="630.8" y1="850.4" x2="630.8" y2="857.6999999999999" stroke="#000" stroke-width="1.5"/>
<text x="630.8" y="869.6" class="tk" text-anchor="middle">5</text>
<text x="363.9" y="885.4" class="xl" text-anchor="middle">Cycle #</text>
<text x="-0.3" y="873.4" class="tag">(d)</text>
<rect x="148.9" y="791.2" width="1.4" height="1.4" fill="#444"/>
<rect x="158.2" y="791.2" width="1.4" height="1.4" fill="#444"/>
<rect x="167.5" y="791.2" width="1.4" height="1.4" fill="#444"/>
<rect x="277.7" y="791.2" width="1.4" height="1.4" fill="#444"/>
<rect x="286.8" y="791.2" width="1.4" height="1.4" fill="#444"/>
<rect x="296.1" y="791.2" width="1.4" height="1.4" fill="#444"/>
<rect x="424.6" y="791.2" width="1.4" height="1.4" fill="#444"/>
<rect x="433.8" y="791.2" width="1.4" height="1.4" fill="#444"/>
<rect x="442.9" y="791.2" width="1.4" height="1.4" fill="#444"/>
<rect x="543.9" y="791.2" width="1.4" height="1.4" fill="#444"/>
<rect x="553.2" y="791.2" width="1.4" height="1.4" fill="#444"/>
<rect x="562.5" y="791.2" width="1.4" height="1.4" fill="#444"/>
<g fill="none" stroke="#f01010">
<polyline points="186.5,850.4 194.6,821.5 203.3,843.5 211.5,846.1 219.1,825.6 227.7,847.0 235.8,842.4 244.0,828.5 252.5,844.9 260.6,818.8" stroke-width="2.4" stroke-dasharray="3.2 2.2"/>
<polyline points="315.1,822.7 324.7,844.8 334.6,826.5 345.5,834.7 356.1,842.3 365.4,813.3 375.9,815.2 386.6,833.6 396.8,833.6 406.9,839.1" stroke-width="2.4" stroke-dasharray="3.2 2.2"/>
<polyline points="462.1,844.1 469.7,838.0 476.7,834.3 484.3,847.1 491.3,848.9 499.3,834.6 506.5,846.5 514.1,845.0 521.1,849.4 528.7,841.0" stroke-width="2.4" stroke-dasharray="3.2 2.2"/>
<polyline points="582.1,834.2 593.1,850.3 604.1,836.6 614.8,826.1 626.0,849.7 636.8,824.6 648.1,812.2 659.0,817.7 669.8,837.6 681.5,833.3" stroke-width="2.4" stroke-dasharray="3.2 2.2"/>
</g><g fill="#f01010">
<rect x="184.6" y="848.5" width="3.8" height="3.8"/>
<rect x="192.7" y="819.6" width="3.8" height="3.8"/>
<rect x="201.4" y="841.6" width="3.8" height="3.8"/>
<rect x="209.6" y="844.2" width="3.8" height="3.8"/>
<rect x="217.2" y="823.7" width="3.8" height="3.8"/>
<rect x="225.8" y="845.1" width="3.8" height="3.8"/>
<rect x="233.9" y="840.5" width="3.8" height="3.8"/>
<rect x="242.1" y="826.6" width="3.8" height="3.8"/>
<rect x="250.6" y="843.0" width="3.8" height="3.8"/>
<rect x="258.7" y="816.9" width="3.8" height="3.8"/>
<rect x="313.2" y="820.8" width="3.8" height="3.8"/>
<rect x="322.8" y="842.9" width="3.8" height="3.8"/>
<rect x="332.7" y="824.6" width="3.8" height="3.8"/>
<rect x="343.6" y="832.8" width="3.8" height="3.8"/>
<rect x="354.2" y="840.4" width="3.8" height="3.8"/>
<rect x="363.5" y="811.4" width="3.8" height="3.8"/>
<rect x="374.0" y="813.3" width="3.8" height="3.8"/>
<rect x="384.7" y="831.7" width="3.8" height="3.8"/>
<rect x="394.9" y="831.7" width="3.8" height="3.8"/>
<rect x="405.0" y="837.2" width="3.8" height="3.8"/>
<rect x="460.2" y="842.2" width="3.8" height="3.8"/>
<rect x="467.8" y="836.1" width="3.8" height="3.8"/>
<rect x="474.8" y="832.4" width="3.8" height="3.8"/>
<rect x="482.4" y="845.2" width="3.8" height="3.8"/>
<rect x="489.4" y="847.0" width="3.8" height="3.8"/>
<rect x="497.4" y="832.7" width="3.8" height="3.8"/>
<rect x="504.6" y="844.6" width="3.8" height="3.8"/>
<rect x="512.2" y="843.1" width="3.8" height="3.8"/>
<rect x="519.2" y="847.5" width="3.8" height="3.8"/>
<rect x="526.8" y="839.1" width="3.8" height="3.8"/>
<rect x="580.2" y="832.3" width="3.8" height="3.8"/>
<rect x="591.2" y="848.4" width="3.8" height="3.8"/>
<rect x="602.2" y="834.7" width="3.8" height="3.8"/>
<rect x="612.9" y="824.2" width="3.8" height="3.8"/>
<rect x="624.1" y="847.8" width="3.8" height="3.8"/>
<rect x="634.9" y="822.7" width="3.8" height="3.8"/>
<rect x="646.2" y="810.3" width="3.8" height="3.8"/>
<rect x="657.1" y="815.8" width="3.8" height="3.8"/>
<rect x="667.9" y="835.7" width="3.8" height="3.8"/>
<rect x="679.6" y="831.4" width="3.8" height="3.8"/>
</g>
<g fill="none" stroke="#0c0ce6">
<polyline points="186.5,850.4 194.6,831.1 202.9,832.1 211.3,844.6 219.4,849.7 227.3,828.8 235.8,822.7 244.0,834.0 252.3,835.3 260.6,844.8" stroke-width="2.4" stroke-dasharray="3.2 2.2"/>
<polyline points="315.1,832.5 324.4,843.6 334.9,844.1 344.7,833.7 356.1,844.1 365.7,833.3 375.9,814.4 386.1,825.9 395.6,829.6 405.8,832.6" stroke-width="2.4" stroke-dasharray="3.2 2.2"/>
<polyline points="462.1,850.4 469.7,839.4 476.7,847.7 484.3,850.3 491.3,844.8 499.3,835.1 505.9,837.6 512.9,843.0 521.1,823.9 528.7,838.5" stroke-width="2.4" stroke-dasharray="3.2 2.2"/>
<polyline points="582.1,850.4 592.0,844.1 603.3,842.4 615.6,825.6 626.0,850.4 636.8,821.1 647.6,808.1 659.0,799.4 669.8,816.1 681.5,842.7" stroke-width="2.4" stroke-dasharray="3.2 2.2"/>
</g><g fill="#0c0ce6">
<rect x="184.6" y="848.5" width="3.8" height="3.8"/>
<rect x="192.7" y="829.2" width="3.8" height="3.8"/>
<rect x="201.0" y="830.2" width="3.8" height="3.8"/>
<rect x="209.4" y="842.7" width="3.8" height="3.8"/>
<rect x="217.5" y="847.8" width="3.8" height="3.8"/>
<rect x="225.4" y="826.9" width="3.8" height="3.8"/>
<rect x="233.9" y="820.8" width="3.8" height="3.8"/>
<rect x="242.1" y="832.1" width="3.8" height="3.8"/>
<rect x="250.4" y="833.4" width="3.8" height="3.8"/>
<rect x="258.7" y="842.9" width="3.8" height="3.8"/>
<rect x="313.2" y="830.6" width="3.8" height="3.8"/>
<rect x="322.5" y="841.7" width="3.8" height="3.8"/>
<rect x="333.0" y="842.2" width="3.8" height="3.8"/>
<rect x="342.8" y="831.8" width="3.8" height="3.8"/>
<rect x="354.2" y="842.2" width="3.8" height="3.8"/>
<rect x="363.8" y="831.4" width="3.8" height="3.8"/>
<rect x="374.0" y="812.5" width="3.8" height="3.8"/>
<rect x="384.2" y="824.0" width="3.8" height="3.8"/>
<rect x="393.7" y="827.7" width="3.8" height="3.8"/>
<rect x="403.9" y="830.7" width="3.8" height="3.8"/>
<rect x="460.2" y="848.5" width="3.8" height="3.8"/>
<rect x="467.8" y="837.5" width="3.8" height="3.8"/>
<rect x="474.8" y="845.8" width="3.8" height="3.8"/>
<rect x="482.4" y="848.4" width="3.8" height="3.8"/>
<rect x="489.4" y="842.9" width="3.8" height="3.8"/>
<rect x="497.4" y="833.2" width="3.8" height="3.8"/>
<rect x="504.0" y="835.7" width="3.8" height="3.8"/>
<rect x="511.0" y="841.1" width="3.8" height="3.8"/>
<rect x="519.2" y="822.0" width="3.8" height="3.8"/>
<rect x="526.8" y="836.6" width="3.8" height="3.8"/>
<rect x="580.2" y="848.5" width="3.8" height="3.8"/>
<rect x="590.1" y="842.2" width="3.8" height="3.8"/>
<rect x="601.4" y="840.5" width="3.8" height="3.8"/>
<rect x="613.7" y="823.7" width="3.8" height="3.8"/>
<rect x="624.1" y="848.5" width="3.8" height="3.8"/>
<rect x="634.9" y="819.2" width="3.8" height="3.8"/>
<rect x="645.7" y="806.2" width="3.8" height="3.8"/>
<rect x="657.1" y="797.5" width="3.8" height="3.8"/>
<rect x="667.9" y="814.2" width="3.8" height="3.8"/>
<rect x="679.6" y="840.8" width="3.8" height="3.8"/>
</g>
<g fill="none" stroke="#0aec0a">
<polyline points="186.5,850.4 194.6,840.4 203.8,843.4 211.5,850.4 219.1,844.5 227.3,849.1 235.8,845.5 244.0,840.6 252.3,842.7 260.6,840.7" stroke-width="2.4" stroke-dasharray="3.2 2.2"/>
<polyline points="315.1,850.4 325.6,838.6 335.3,850.2 344.4,840.9 356.1,843.3 365.4,849.3 374.8,841.9 386.6,841.5 397.3,843.5 406.9,845.3" stroke-width="2.4" stroke-dasharray="3.2 2.2"/>
<polyline points="462.1,850.4 469.7,842.4 477.3,843.7 484.3,844.5 491.3,849.2 499.3,843.6 506.5,849.7 513.8,850.1 521.1,848.8 529.3,838.7" stroke-width="2.4" stroke-dasharray="3.2 2.2"/>
<polyline points="582.1,850.4 593.1,849.1 604.1,846.1 615.8,842.7 625.6,844.4 636.8,840.8 648.1,848.8 658.1,841.5 669.8,847.7 681.5,844.6" stroke-width="2.4" stroke-dasharray="3.2 2.2"/>
</g><g fill="#0aec0a">
<rect x="184.6" y="848.5" width="3.8" height="3.8"/>
<rect x="192.7" y="838.5" width="3.8" height="3.8"/>
<rect x="201.9" y="841.5" width="3.8" height="3.8"/>
<rect x="209.6" y="848.5" width="3.8" height="3.8"/>
<rect x="217.2" y="842.6" width="3.8" height="3.8"/>
<rect x="225.4" y="847.2" width="3.8" height="3.8"/>
<rect x="233.9" y="843.6" width="3.8" height="3.8"/>
<rect x="242.1" y="838.7" width="3.8" height="3.8"/>
<rect x="250.4" y="840.8" width="3.8" height="3.8"/>
<rect x="258.7" y="838.8" width="3.8" height="3.8"/>
<rect x="313.2" y="848.5" width="3.8" height="3.8"/>
<rect x="323.7" y="836.7" width="3.8" height="3.8"/>
<rect x="333.4" y="848.3" width="3.8" height="3.8"/>
<rect x="342.5" y="839.0" width="3.8" height="3.8"/>
<rect x="354.2" y="841.4" width="3.8" height="3.8"/>
<rect x="363.5" y="847.4" width="3.8" height="3.8"/>
<rect x="372.9" y="840.0" width="3.8" height="3.8"/>
<rect x="384.7" y="839.6" width="3.8" height="3.8"/>
<rect x="395.4" y="841.6" width="3.8" height="3.8"/>
<rect x="405.0" y="843.4" width="3.8" height="3.8"/>
<rect x="460.2" y="848.5" width="3.8" height="3.8"/>
<rect x="467.8" y="840.5" width="3.8" height="3.8"/>
<rect x="475.4" y="841.8" width="3.8" height="3.8"/>
<rect x="482.4" y="842.6" width="3.8" height="3.8"/>
<rect x="489.4" y="847.3" width="3.8" height="3.8"/>
<rect x="497.4" y="841.7" width="3.8" height="3.8"/>
<rect x="504.6" y="847.8" width="3.8" height="3.8"/>
<rect x="511.9" y="848.2" width="3.8" height="3.8"/>
<rect x="519.2" y="846.9" width="3.8" height="3.8"/>
<rect x="527.4" y="836.8" width="3.8" height="3.8"/>
<rect x="580.2" y="848.5" width="3.8" height="3.8"/>
<rect x="591.2" y="847.2" width="3.8" height="3.8"/>
<rect x="602.2" y="844.2" width="3.8" height="3.8"/>
<rect x="613.9" y="840.8" width="3.8" height="3.8"/>
<rect x="623.7" y="842.5" width="3.8" height="3.8"/>
<rect x="634.9" y="838.9" width="3.8" height="3.8"/>
<rect x="646.2" y="846.9" width="3.8" height="3.8"/>
<rect x="656.2" y="839.6" width="3.8" height="3.8"/>
<rect x="667.9" y="845.8" width="3.8" height="3.8"/>
<rect x="679.6" y="842.7" width="3.8" height="3.8"/>
</g>
<g fill="none" stroke="#f01010">
<polyline points="186.5,849.8 194.6,807.6 203.3,821.3 211.5,781.7 219.1,738.3 227.7,759.9 235.8,756.1 244.0,808.3 252.5,807.5 260.6,804.7" stroke-width="2.5" stroke-linejoin="round"/>
<polyline points="315.1,822.1 324.7,827.3 334.6,780.1 345.5,746.9 356.1,734.0 365.4,754.6 375.9,760.4 386.6,779.3 396.8,821.1 406.9,820.9" stroke-width="2.5" stroke-linejoin="round"/>
<polyline points="462.1,843.3 469.7,826.0 476.7,807.4 484.3,797.4 491.3,777.9 499.3,786.5 506.5,776.3 514.1,795.3 521.1,824.9 528.7,829.1" stroke-width="2.5" stroke-linejoin="round"/>
<polyline points="582.1,833.0 593.1,832.3 604.1,779.7 614.8,770.7 626.0,712.6 636.8,723.9 648.1,750.1 659.0,778.9 669.8,805.4 681.5,848.7" stroke-width="2.5" stroke-linejoin="round"/>
<circle cx="186.5" cy="849.8" r="3.4" stroke-width="1.8"/>
<circle cx="194.6" cy="807.6" r="3.4" stroke-width="1.8"/>
<circle cx="203.3" cy="821.3" r="3.4" stroke-width="1.8"/>
<circle cx="211.5" cy="781.7" r="3.4" stroke-width="1.8"/>
<circle cx="219.1" cy="738.3" r="3.4" stroke-width="1.8"/>
<circle cx="227.7" cy="759.9" r="3.4" stroke-width="1.8"/>
<circle cx="235.8" cy="756.1" r="3.4" stroke-width="1.8"/>
<circle cx="244.0" cy="808.3" r="3.4" stroke-width="1.8"/>
<circle cx="252.5" cy="807.5" r="3.4" stroke-width="1.8"/>
<circle cx="260.6" cy="804.7" r="3.4" stroke-width="1.8"/>
<circle cx="315.1" cy="822.1" r="3.4" stroke-width="1.8"/>
<circle cx="324.7" cy="827.3" r="3.4" stroke-width="1.8"/>
<circle cx="334.6" cy="780.1" r="3.4" stroke-width="1.8"/>
<circle cx="345.5" cy="746.9" r="3.4" stroke-width="1.8"/>
<circle cx="356.1" cy="734.0" r="3.4" stroke-width="1.8"/>
<circle cx="365.4" cy="754.6" r="3.4" stroke-width="1.8"/>
<circle cx="375.9" cy="760.4" r="3.4" stroke-width="1.8"/>
<circle cx="386.6" cy="779.3" r="3.4" stroke-width="1.8"/>
<circle cx="396.8" cy="821.1" r="3.4" stroke-width="1.8"/>
<circle cx="406.9" cy="820.9" r="3.4" stroke-width="1.8"/>
<circle cx="462.1" cy="843.3" r="3.4" stroke-width="1.8"/>
<circle cx="469.7" cy="826.0" r="3.4" stroke-width="1.8"/>
<circle cx="476.7" cy="807.4" r="3.4" stroke-width="1.8"/>
<circle cx="484.3" cy="797.4" r="3.4" stroke-width="1.8"/>
<circle cx="491.3" cy="777.9" r="3.4" stroke-width="1.8"/>
<circle cx="499.3" cy="786.5" r="3.4" stroke-width="1.8"/>
<circle cx="506.5" cy="776.3" r="3.4" stroke-width="1.8"/>
<circle cx="514.1" cy="795.3" r="3.4" stroke-width="1.8"/>
<circle cx="521.1" cy="824.9" r="3.4" stroke-width="1.8"/>
<circle cx="528.7" cy="829.1" r="3.4" stroke-width="1.8"/>
<circle cx="582.1" cy="833.0" r="3.4" stroke-width="1.8"/>
<circle cx="593.1" cy="832.3" r="3.4" stroke-width="1.8"/>
<circle cx="604.1" cy="779.7" r="3.4" stroke-width="1.8"/>
<circle cx="614.8" cy="770.7" r="3.4" stroke-width="1.8"/>
<circle cx="626.0" cy="712.6" r="3.4" stroke-width="1.8"/>
<circle cx="636.8" cy="723.9" r="3.4" stroke-width="1.8"/>
<circle cx="648.1" cy="750.1" r="3.4" stroke-width="1.8"/>
<circle cx="659.0" cy="778.9" r="3.4" stroke-width="1.8"/>
<circle cx="669.8" cy="805.4" r="3.4" stroke-width="1.8"/>
<circle cx="681.5" cy="848.7" r="3.4" stroke-width="1.8"/>
</g>
<g fill="none" stroke="#0c0ce6">
<polyline points="186.5,849.8 194.6,828.0 202.9,796.1 211.3,780.1 219.4,763.7 227.3,778.0 235.8,791.7 244.0,802.8 252.3,828.1 260.6,830.7" stroke-width="2.5" stroke-linejoin="round"/>
<polyline points="315.1,831.9 324.4,826.1 334.9,797.7 344.7,745.9 356.1,732.2 365.7,734.6 375.9,761.2 386.1,787.0 395.6,825.1 405.8,850.0" stroke-width="2.5" stroke-linejoin="round"/>
<polyline points="462.1,849.6 469.7,849.4 476.7,820.8 484.3,800.8 491.3,785.0 499.3,786.1 505.9,792.9 512.9,808.1 521.1,850.5 528.7,850.5" stroke-width="2.5" stroke-linejoin="round"/>
<polyline points="582.1,849.2 592.0,826.0 603.3,785.4 615.6,771.3 626.0,711.9 636.8,727.5 647.6,754.2 659.0,797.2 669.8,826.8 681.5,839.3" stroke-width="2.5" stroke-linejoin="round"/>
<circle cx="186.5" cy="849.8" r="3.4" stroke-width="1.8"/>
<circle cx="194.6" cy="828.0" r="3.4" stroke-width="1.8"/>
<circle cx="202.9" cy="796.1" r="3.4" stroke-width="1.8"/>
<circle cx="211.3" cy="780.1" r="3.4" stroke-width="1.8"/>
<circle cx="219.4" cy="763.7" r="3.4" stroke-width="1.8"/>
<circle cx="227.3" cy="778.0" r="3.4" stroke-width="1.8"/>
<circle cx="235.8" cy="791.7" r="3.4" stroke-width="1.8"/>
<circle cx="244.0" cy="802.8" r="3.4" stroke-width="1.8"/>
<circle cx="252.3" cy="828.1" r="3.4" stroke-width="1.8"/>
<circle cx="260.6" cy="830.7" r="3.4" stroke-width="1.8"/>
<circle cx="315.1" cy="831.9" r="3.4" stroke-width="1.8"/>
<circle cx="324.4" cy="826.1" r="3.4" stroke-width="1.8"/>
<circle cx="334.9" cy="797.7" r="3.4" stroke-width="1.8"/>
<circle cx="344.7" cy="745.9" r="3.4" stroke-width="1.8"/>
<circle cx="356.1" cy="732.2" r="3.4" stroke-width="1.8"/>
<circle cx="365.7" cy="734.6" r="3.4" stroke-width="1.8"/>
<circle cx="375.9" cy="761.2" r="3.4" stroke-width="1.8"/>
<circle cx="386.1" cy="787.0" r="3.4" stroke-width="1.8"/>
<circle cx="395.6" cy="825.1" r="3.4" stroke-width="1.8"/>
<circle cx="405.8" cy="850.0" r="3.4" stroke-width="1.8"/>
<circle cx="462.1" cy="849.6" r="3.4" stroke-width="1.8"/>
<circle cx="469.7" cy="849.4" r="3.4" stroke-width="1.8"/>
<circle cx="476.7" cy="820.8" r="3.4" stroke-width="1.8"/>
<circle cx="484.3" cy="800.8" r="3.4" stroke-width="1.8"/>
<circle cx="491.3" cy="785.0" r="3.4" stroke-width="1.8"/>
<circle cx="499.3" cy="786.1" r="3.4" stroke-width="1.8"/>
<circle cx="505.9" cy="792.9" r="3.4" stroke-width="1.8"/>
<circle cx="512.9" cy="808.1" r="3.4" stroke-width="1.8"/>
<circle cx="521.1" cy="850.5" r="3.4" stroke-width="1.8"/>
<circle cx="528.7" cy="850.5" r="3.4" stroke-width="1.8"/>
<circle cx="582.1" cy="849.2" r="3.4" stroke-width="1.8"/>
<circle cx="592.0" cy="826.0" r="3.4" stroke-width="1.8"/>
<circle cx="603.3" cy="785.4" r="3.4" stroke-width="1.8"/>
<circle cx="615.6" cy="771.3" r="3.4" stroke-width="1.8"/>
<circle cx="626.0" cy="711.9" r="3.4" stroke-width="1.8"/>
<circle cx="636.8" cy="727.5" r="3.4" stroke-width="1.8"/>
<circle cx="647.6" cy="754.2" r="3.4" stroke-width="1.8"/>
<circle cx="659.0" cy="797.2" r="3.4" stroke-width="1.8"/>
<circle cx="669.8" cy="826.8" r="3.4" stroke-width="1.8"/>
<circle cx="681.5" cy="839.3" r="3.4" stroke-width="1.8"/>
</g>
<g fill="none" stroke="#0aec0a">
<polyline points="186.5,849.8 194.6,846.5 203.8,821.3 211.5,785.9 219.1,757.2 227.3,757.8 235.8,759.1 244.0,796.3 252.3,820.7 260.6,826.6" stroke-width="2.6" stroke-linejoin="round"/>
<polyline points="315.1,849.8 325.6,844.7 335.3,803.8 344.4,753.1 356.1,733.0 365.4,716.4 374.8,733.7 386.6,753.6 397.3,797.4 406.9,827.0" stroke-width="2.6" stroke-linejoin="round"/>
<polyline points="462.1,849.6 469.7,846.4 477.3,830.3 484.3,794.9 491.3,778.2 499.3,777.5 506.5,779.5 513.8,801.0 521.1,825.5 529.3,826.8" stroke-width="2.6" stroke-linejoin="round"/>
<polyline points="582.1,849.2 593.1,830.9 604.1,797.8 615.8,754.2 625.6,705.8 636.8,707.8 648.1,710.3 658.1,755.0 669.8,789.8 681.5,825.7" stroke-width="2.6" stroke-linejoin="round"/>
<circle cx="186.5" cy="849.8" r="3.4" stroke-width="1.8"/>
<circle cx="194.6" cy="846.5" r="3.4" stroke-width="1.8"/>
<circle cx="203.8" cy="821.3" r="3.4" stroke-width="1.8"/>
<circle cx="211.5" cy="785.9" r="3.4" stroke-width="1.8"/>
<circle cx="219.1" cy="757.2" r="3.4" stroke-width="1.8"/>
<circle cx="227.3" cy="757.8" r="3.4" stroke-width="1.8"/>
<circle cx="235.8" cy="759.1" r="3.4" stroke-width="1.8"/>
<circle cx="244.0" cy="796.3" r="3.4" stroke-width="1.8"/>
<circle cx="252.3" cy="820.7" r="3.4" stroke-width="1.8"/>
<circle cx="260.6" cy="826.6" r="3.4" stroke-width="1.8"/>
<circle cx="315.1" cy="849.8" r="3.4" stroke-width="1.8"/>
<circle cx="325.6" cy="844.7" r="3.4" stroke-width="1.8"/>
<circle cx="335.3" cy="803.8" r="3.4" stroke-width="1.8"/>
<circle cx="344.4" cy="753.1" r="3.4" stroke-width="1.8"/>
<circle cx="356.1" cy="733.0" r="3.4" stroke-width="1.8"/>
<circle cx="365.4" cy="716.4" r="3.4" stroke-width="1.8"/>
<circle cx="374.8" cy="733.7" r="3.4" stroke-width="1.8"/>
<circle cx="386.6" cy="753.6" r="3.4" stroke-width="1.8"/>
<circle cx="397.3" cy="797.4" r="3.4" stroke-width="1.8"/>
<circle cx="406.9" cy="827.0" r="3.4" stroke-width="1.8"/>
<circle cx="462.1" cy="849.6" r="3.4" stroke-width="1.8"/>
<circle cx="469.7" cy="846.4" r="3.4" stroke-width="1.8"/>
<circle cx="477.3" cy="830.3" r="3.4" stroke-width="1.8"/>
<circle cx="484.3" cy="794.9" r="3.4" stroke-width="1.8"/>
<circle cx="491.3" cy="778.2" r="3.4" stroke-width="1.8"/>
<circle cx="499.3" cy="777.5" r="3.4" stroke-width="1.8"/>
<circle cx="506.5" cy="779.5" r="3.4" stroke-width="1.8"/>
<circle cx="513.8" cy="801.0" r="3.4" stroke-width="1.8"/>
<circle cx="521.1" cy="825.5" r="3.4" stroke-width="1.8"/>
<circle cx="529.3" cy="826.8" r="3.4" stroke-width="1.8"/>
<circle cx="582.1" cy="849.2" r="3.4" stroke-width="1.8"/>
<circle cx="593.1" cy="830.9" r="3.4" stroke-width="1.8"/>
<circle cx="604.1" cy="797.8" r="3.4" stroke-width="1.8"/>
<circle cx="615.8" cy="754.2" r="3.4" stroke-width="1.8"/>
<circle cx="625.6" cy="705.8" r="3.4" stroke-width="1.8"/>
<circle cx="636.8" cy="707.8" r="3.4" stroke-width="1.8"/>
<circle cx="648.1" cy="710.3" r="3.4" stroke-width="1.8"/>
<circle cx="658.1" cy="755.0" r="3.4" stroke-width="1.8"/>
<circle cx="669.8" cy="789.8" r="3.4" stroke-width="1.8"/>
<circle cx="681.5" cy="825.7" r="3.4" stroke-width="1.8"/>
</g>
<g fill="none" stroke="#000000">
<polyline points="48.4,850.3 57.6,835.3 66.8,809.4 75.8,770.8 85.3,745.0 94.4,737.0 103.6,745.0 112.8,770.7 122.1,808.9 131.3,834.2" stroke-width="1.8" stroke-linejoin="round"/>
<polyline points="186.5,849.8 194.6,836.5 203.3,814.4 211.5,785.9 219.1,763.1 227.3,756.5 235.8,764.0 244.0,786.4 252.3,813.0 260.6,836.3" stroke-width="1.8" stroke-linejoin="round"/>
<polyline points="315.1,849.8 325.0,832.9 335.3,804.0 345.5,762.6 355.6,725.9 365.4,717.5 375.9,725.2 385.6,762.5 396.2,804.3 406.3,832.2" stroke-width="1.8" stroke-linejoin="round"/>
<polyline points="462.1,849.6 469.7,838.4 477.3,823.5 484.3,800.8 491.3,779.4 499.3,770.7 506.5,780.1 513.8,800.7 521.1,823.9 528.7,838.5" stroke-width="1.8" stroke-linejoin="round"/>
<polyline points="582.1,849.2 593.1,832.2 604.1,793.4 615.2,746.5 626.0,711.9 636.8,698.2 648.1,711.9 659.0,746.2 669.8,792.5 681.1,831.6" stroke-width="1.8" stroke-linejoin="round"/>
<circle cx="48.4" cy="850.3" r="3.1" stroke-width="1.7"/>
<circle cx="57.6" cy="835.3" r="3.1" stroke-width="1.7"/>
<circle cx="66.8" cy="809.4" r="3.1" stroke-width="1.7"/>
<circle cx="75.8" cy="770.8" r="3.1" stroke-width="1.7"/>
<circle cx="85.3" cy="745.0" r="3.1" stroke-width="1.7"/>
<circle cx="94.4" cy="737.0" r="3.1" stroke-width="1.7"/>
<circle cx="103.6" cy="745.0" r="3.1" stroke-width="1.7"/>
<circle cx="112.8" cy="770.7" r="3.1" stroke-width="1.7"/>
<circle cx="122.1" cy="808.9" r="3.1" stroke-width="1.7"/>
<circle cx="131.3" cy="834.2" r="3.1" stroke-width="1.7"/>
<circle cx="186.5" cy="849.8" r="3.1" stroke-width="1.7"/>
<circle cx="194.6" cy="836.5" r="3.1" stroke-width="1.7"/>
<circle cx="203.3" cy="814.4" r="3.1" stroke-width="1.7"/>
<circle cx="211.5" cy="785.9" r="3.1" stroke-width="1.7"/>
<circle cx="219.1" cy="763.1" r="3.1" stroke-width="1.7"/>
<circle cx="227.3" cy="756.5" r="3.1" stroke-width="1.7"/>
<circle cx="235.8" cy="764.0" r="3.1" stroke-width="1.7"/>
<circle cx="244.0" cy="786.4" r="3.1" stroke-width="1.7"/>
<circle cx="252.3" cy="813.0" r="3.1" stroke-width="1.7"/>
<circle cx="260.6" cy="836.3" r="3.1" stroke-width="1.7"/>
<circle cx="315.1" cy="849.8" r="3.1" stroke-width="1.7"/>
<circle cx="325.0" cy="832.9" r="3.1" stroke-width="1.7"/>
<circle cx="335.3" cy="804.0" r="3.1" stroke-width="1.7"/>
<circle cx="345.5" cy="762.6" r="3.1" stroke-width="1.7"/>
<circle cx="355.6" cy="725.9" r="3.1" stroke-width="1.7"/>
<circle cx="365.4" cy="717.5" r="3.1" stroke-width="1.7"/>
<circle cx="375.9" cy="725.2" r="3.1" stroke-width="1.7"/>
<circle cx="385.6" cy="762.5" r="3.1" stroke-width="1.7"/>
<circle cx="396.2" cy="804.3" r="3.1" stroke-width="1.7"/>
<circle cx="406.3" cy="832.2" r="3.1" stroke-width="1.7"/>
<circle cx="462.1" cy="849.6" r="3.1" stroke-width="1.7"/>
<circle cx="469.7" cy="838.4" r="3.1" stroke-width="1.7"/>
<circle cx="477.3" cy="823.5" r="3.1" stroke-width="1.7"/>
<circle cx="484.3" cy="800.8" r="3.1" stroke-width="1.7"/>
<circle cx="491.3" cy="779.4" r="3.1" stroke-width="1.7"/>
<circle cx="499.3" cy="770.7" r="3.1" stroke-width="1.7"/>
<circle cx="506.5" cy="780.1" r="3.1" stroke-width="1.7"/>
<circle cx="513.8" cy="800.7" r="3.1" stroke-width="1.7"/>
<circle cx="521.1" cy="823.9" r="3.1" stroke-width="1.7"/>
<circle cx="528.7" cy="838.5" r="3.1" stroke-width="1.7"/>
<circle cx="582.1" cy="849.2" r="3.1" stroke-width="1.7"/>
<circle cx="593.1" cy="832.2" r="3.1" stroke-width="1.7"/>
<circle cx="604.1" cy="793.4" r="3.1" stroke-width="1.7"/>
<circle cx="615.2" cy="746.5" r="3.1" stroke-width="1.7"/>
<circle cx="626.0" cy="711.9" r="3.1" stroke-width="1.7"/>
<circle cx="636.8" cy="698.2" r="3.1" stroke-width="1.7"/>
<circle cx="648.1" cy="711.9" r="3.1" stroke-width="1.7"/>
<circle cx="659.0" cy="746.2" r="3.1" stroke-width="1.7"/>
<circle cx="669.8" cy="792.5" r="3.1" stroke-width="1.7"/>
<circle cx="681.1" cy="831.6" r="3.1" stroke-width="1.7"/>
</g>
<line x1="92.0" y1="672.8" x2="110.7" y2="672.8" stroke="#000000" stroke-width="1.8"/>
<circle cx="101.35" cy="672.8" r="3.1" fill="none" stroke="#000000" stroke-width="1.7"/>
<text x="120.5" y="678.2" class="lg">Ground truth</text>
<line x1="219.0" y1="672.6" x2="238.0" y2="672.6" stroke="#f01010" stroke-width="2.5"/>
<circle cx="228.5" cy="672.6" r="3.4" fill="none" stroke="#f01010" stroke-width="1.8"/>
<text x="247.8" y="677.3" class="lgs">RoiMod</text>
<line x1="346.4" y1="672.2" x2="365.8" y2="672.2" stroke="#0c0ce6" stroke-width="2.5"/>
<circle cx="356.1" cy="672.2" r="3.4" fill="none" stroke="#0c0ce6" stroke-width="1.8"/>
<text x="375.3" y="677.9" class="lg">SurphaMod</text>
<line x1="494.6" y1="672.2" x2="513.4" y2="672.2" stroke="#0aec0a" stroke-width="2.6"/>
<circle cx="504.0" cy="672.2" r="3.4" fill="none" stroke="#0aec0a" stroke-width="1.8"/>
<text x="524.0" y="677.4" class="lg">SurMod</text>
<rect x="219.2" y="701.0" width="2" height="2" fill="#f01010"/>
<rect x="226.7" y="700.0" width="4" height="4" fill="#f01010"/>
<rect x="233.79999999999998" y="701.0" width="2" height="2" fill="#f01010"/>
<text x="247.8" y="706.3" class="lg">RoiMod-Diff</text>
<rect x="346.2" y="700.8" width="2" height="2" fill="#0c0ce6"/>
<rect x="353.7" y="699.8" width="4" height="4" fill="#0c0ce6"/>
<rect x="360.8" y="700.8" width="2" height="2" fill="#0c0ce6"/>
<text x="375.3" y="706.3" class="lg">SurphaMod-Diff</text>
<rect x="494.4" y="701.0" width="2" height="2" fill="#0aec0a"/>
<rect x="501.9" y="700.0" width="4" height="4" fill="#0aec0a"/>
<rect x="509.0" y="701.0" width="2" height="2" fill="#0aec0a"/>
<text x="524.0" y="706.3" class="lg">SurMod-Diff</text>
</svg></body></html>
